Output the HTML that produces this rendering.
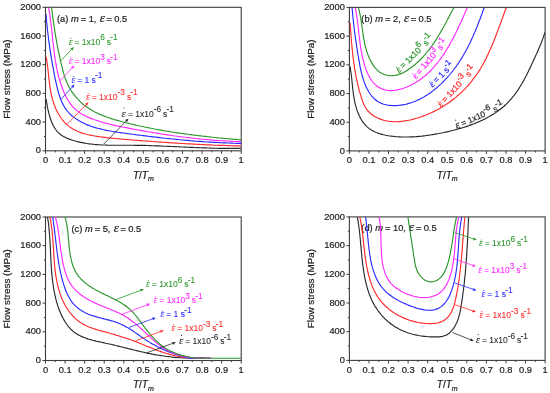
<!DOCTYPE html>
<html><head><meta charset="utf-8"><style>
html,body{margin:0;padding:0;background:#fff;}
body{width:550px;height:393px;overflow:hidden;}
svg{display:block;filter:blur(0.25px);}
text{font-family:'Liberation Sans', Arial, sans-serif;fill:#1e1e1e;stroke:#1e1e1e;stroke-width:0.22px;}
.t{font-size:9.3px;}
.yt{font-size:9.85px;}
.xt{font-size:10px;}
.eps{font-family:'Liberation Serif', 'Times New Roman', serif;font-style:italic;font-size:13px;}
.ed{font-family:'Liberation Serif', 'Times New Roman', serif;font-style:italic;}
</style></head><body>
<svg width="550" height="393" viewBox="0 0 550 393">
<rect width="550" height="393" fill="#fff"/>
<rect x="45.5" y="7.3" width="195.7" height="143.5" fill="none" stroke="#3c3c3c" stroke-width="1.1"/>
<path d="M45.5,150.8v3M55.3,150.8v1.6M65.1,150.8v3M74.9,150.8v1.6M84.6,150.8v3M94.4,150.8v1.6M104.2,150.8v3M114,150.8v1.6M123.8,150.8v3M133.6,150.8v1.6M143.3,150.8v3M153.1,150.8v1.6M162.9,150.8v3M172.7,150.8v1.6M182.5,150.8v3M192.3,150.8v1.6M202.1,150.8v3M211.8,150.8v1.6M221.6,150.8v3M231.4,150.8v1.6M241.2,150.8v3M45.5,150.8h-3M45.5,136.5h-1.6M45.5,122.1h-3M45.5,107.8h-1.6M45.5,93.4h-3M45.5,79.1h-1.6M45.5,64.7h-3M45.5,50.4h-1.6M45.5,36h-3M45.5,21.7h-1.6M45.5,7.3h-3" stroke="#3c3c3c" stroke-width="1" fill="none"/>
<text x="45.5" y="162.9" text-anchor="middle" class="t">0</text>
<text x="65.1" y="162.9" text-anchor="middle" class="t">0.1</text>
<text x="84.6" y="162.9" text-anchor="middle" class="t">0.2</text>
<text x="104.2" y="162.9" text-anchor="middle" class="t">0.3</text>
<text x="123.8" y="162.9" text-anchor="middle" class="t">0.4</text>
<text x="143.3" y="162.9" text-anchor="middle" class="t">0.5</text>
<text x="162.9" y="162.9" text-anchor="middle" class="t">0.6</text>
<text x="182.5" y="162.9" text-anchor="middle" class="t">0.7</text>
<text x="202.1" y="162.9" text-anchor="middle" class="t">0.8</text>
<text x="221.6" y="162.9" text-anchor="middle" class="t">0.9</text>
<text x="241.2" y="162.9" text-anchor="middle" class="t">1</text>
<text x="41" y="153.4" text-anchor="end" class="t">0</text>
<text x="41" y="124.7" text-anchor="end" class="t">400</text>
<text x="41" y="96" text-anchor="end" class="t">800</text>
<text x="41" y="67.3" text-anchor="end" class="t">1200</text>
<text x="41" y="38.6" text-anchor="end" class="t">1600</text>
<text x="41" y="9.9" text-anchor="end" class="t">2000</text>
<text transform="translate(9.9,79.1) rotate(-90)" text-anchor="middle" class="yt">Flow stress (MPa)</text>
<text x="143.3" y="178.7" class="xt" text-anchor="middle"><tspan font-style="italic">T</tspan>/<tspan font-style="italic">T</tspan><tspan font-style="italic" font-size="7" dy="2.2">m</tspan></text>
<text x="57" y="22.2" class="t">(a) <tspan font-style="italic">m</tspan><tspan dx="-0.6"> = 1, </tspan><tspan class="eps" dx="0.6">ε</tspan><tspan dx="1.7">=</tspan><tspan dx="-0.3"> 0.5</tspan></text>
<clipPath id="cpa"><rect x="45.5" y="7.3" width="195.7" height="143.5"/></clipPath>
<g clip-path="url(#cpa)">
<path d="M46.2,99.1C46.2,99.5 46.4,100.7 46.5,101.5C46.6,102.3 46.7,103.1 46.9,103.9C47,104.7 47.2,105.5 47.3,106.4C47.5,107.2 47.6,108 47.8,108.8C48,109.7 48.2,110.5 48.4,111.3C48.6,112.2 48.8,113 49,113.9C49.3,114.7 49.5,115.6 49.8,116.4C50,117.3 50.3,118.1 50.6,119C50.8,119.8 51.2,120.6 51.5,121.5C51.8,122.3 52.1,123.1 52.5,123.9C52.9,124.7 53.3,125.5 53.7,126.3C54.1,127 54.5,127.8 55,128.5C55.4,129.2 55.9,129.9 56.4,130.5C57,131.2 57.5,131.8 58.1,132.4C58.7,133 59.3,133.5 59.9,134C60.6,134.6 61.2,135 61.9,135.5C62.6,135.9 63.3,136.4 64.1,136.8C64.8,137.2 65.5,137.5 66.3,137.9C67.1,138.2 67.8,138.6 68.6,138.9C69.4,139.2 70.2,139.5 71,139.7C71.8,140 72.6,140.3 73.4,140.5C74.2,140.8 75,141 75.9,141.2C76.7,141.4 77.5,141.7 78.3,141.9C79.1,142.1 79.9,142.2 80.8,142.4C81.6,142.6 82.4,142.8 83.2,142.9C84.1,143.1 84.9,143.2 85.7,143.3C86.6,143.5 87.4,143.6 88.2,143.7C89.1,143.8 89.9,143.9 90.7,144C91.6,144.1 92.4,144.2 93.3,144.3C94.1,144.4 94.9,144.5 95.8,144.6C96.6,144.6 97.5,144.7 98.3,144.7C99.2,144.8 100,144.8 100.9,144.9C101.7,144.9 102.6,145 103.4,145C104.3,145 105.1,145.1 106,145.1C106.8,145.1 107.7,145.1 108.5,145.2C109.4,145.2 110.2,145.2 111.1,145.2C112,145.2 112.8,145.2 113.7,145.2C114.5,145.2 115.4,145.2 116.2,145.2C117.1,145.2 118,145.2 118.8,145.2C119.7,145.2 120.5,145.2 121.4,145.2C122.2,145.2 123.1,145.2 124,145.2C124.8,145.2 125.7,145.2 126.5,145.2C127.4,145.2 128.2,145.2 129.1,145.2C129.9,145.2 130.8,145.2 131.7,145.2C132.5,145.2 133.4,145.2 134.2,145.3C135.1,145.3 135.9,145.3 136.8,145.3C137.6,145.3 138.5,145.3 139.3,145.3C140.2,145.3 141,145.4 141.9,145.4C142.7,145.4 143.6,145.4 144.4,145.4C145.3,145.5 146.1,145.5 147,145.5C147.8,145.5 148.7,145.6 149.5,145.6C150.4,145.6 151.2,145.6 152.1,145.7C152.9,145.7 153.8,145.7 154.6,145.8C155.5,145.8 156.3,145.8 157.2,145.8C158,145.9 158.8,145.9 159.7,145.9C160.5,146 161.4,146 162.2,146.1C163.1,146.1 163.9,146.1 164.8,146.2C165.6,146.2 166.5,146.2 167.3,146.3C168.1,146.3 169,146.3 169.8,146.4C170.7,146.4 171.5,146.5 172.4,146.5C173.2,146.5 174,146.6 174.9,146.6C175.7,146.7 176.6,146.7 177.4,146.7C178.3,146.8 179.1,146.8 180,146.9C180.8,146.9 181.6,146.9 182.5,147C183.3,147 184.2,147.1 185,147.1C185.9,147.1 186.7,147.2 187.5,147.2C188.4,147.2 189.2,147.3 190.1,147.3C190.9,147.4 191.8,147.4 192.6,147.4C193.4,147.5 194.3,147.5 195.1,147.5C196,147.6 196.8,147.6 197.7,147.6C198.5,147.7 199.4,147.7 200.2,147.7C201,147.8 201.9,147.8 202.7,147.8C203.6,147.9 204.4,147.9 205.3,147.9C206.1,148 207,148 207.8,148C208.7,148 209.5,148.1 210.4,148.1C211.2,148.1 212,148.1 212.9,148.2C213.7,148.2 214.6,148.2 215.4,148.2C216.3,148.2 217.1,148.2 218,148.3C218.8,148.3 219.7,148.3 220.5,148.3C221.4,148.3 222.2,148.3 223.1,148.3C223.9,148.3 224.8,148.3 225.6,148.4C226.5,148.4 227.3,148.4 228.2,148.4C229,148.4 229.9,148.4 230.8,148.4C231.6,148.4 232.5,148.3 233.3,148.3C234.2,148.3 235,148.3 235.9,148.3C236.7,148.3 237.6,148.3 238.5,148.3C239.3,148.3 240.6,148.2 241,148.2" stroke="#2a2a2a" stroke-width="1.15" fill="none"/>
<path d="M46.1,56.6C46.1,57 46.4,58.2 46.5,59C46.7,59.8 46.8,60.6 46.9,61.4C47,62.2 47.2,63 47.3,63.9C47.4,64.7 47.5,65.5 47.6,66.3C47.7,67.2 47.8,68 47.9,68.8C48,69.7 48.1,70.5 48.2,71.3C48.2,72.2 48.3,73 48.4,73.9C48.5,74.7 48.6,75.6 48.7,76.4C48.8,77.3 48.9,78.1 49,79C49.1,79.8 49.2,80.7 49.3,81.5C49.4,82.4 49.5,83.2 49.6,84.1C49.7,84.9 49.8,85.8 49.9,86.6C50,87.5 50.2,88.3 50.3,89.2C50.5,90 50.6,90.9 50.8,91.7C50.9,92.5 51.1,93.4 51.2,94.2C51.4,95.1 51.6,95.9 51.8,96.7C52,97.5 52.2,98.4 52.4,99.2C52.7,100 52.9,100.8 53.2,101.6C53.4,102.5 53.7,103.3 54,104.1C54.2,104.9 54.5,105.7 54.9,106.5C55.2,107.2 55.5,108 55.8,108.8C56.2,109.6 56.6,110.3 56.9,111.1C57.3,111.8 57.7,112.6 58.1,113.3C58.5,114 58.9,114.7 59.4,115.4C59.8,116.1 60.3,116.8 60.7,117.5C61.2,118.2 61.7,118.8 62.2,119.5C62.7,120.1 63.2,120.8 63.7,121.4C64.3,122 64.8,122.6 65.4,123.2C66,123.7 66.6,124.3 67.2,124.8C67.8,125.4 68.4,125.9 69,126.4C69.7,126.9 70.3,127.4 71,127.8C71.6,128.3 72.3,128.7 73,129.1C73.7,129.5 74.5,129.9 75.2,130.3C75.9,130.6 76.7,131 77.4,131.3C78.2,131.6 79,131.9 79.8,132.2C80.5,132.5 81.3,132.8 82.1,133.1C83,133.3 83.8,133.6 84.6,133.8C85.4,134 86.2,134.2 87.1,134.5C87.9,134.7 88.8,134.8 89.6,135C90.5,135.2 91.3,135.4 92.2,135.5C93,135.7 93.9,135.9 94.7,136C95.6,136.1 96.5,136.3 97.3,136.4C98.2,136.5 99,136.7 99.9,136.8C100.7,136.9 101.6,137 102.4,137.1C103.3,137.2 104.2,137.3 105,137.4C105.9,137.5 106.7,137.6 107.5,137.7C108.4,137.8 109.2,137.9 110.1,138C110.9,138.1 111.8,138.2 112.6,138.3C113.4,138.4 114.3,138.4 115.1,138.5C116,138.6 116.8,138.7 117.6,138.7C118.5,138.8 119.3,138.9 120.2,139C121,139 121.8,139.1 122.7,139.2C123.5,139.2 124.3,139.3 125.2,139.4C126,139.5 126.8,139.5 127.7,139.6C128.5,139.7 129.4,139.7 130.2,139.8C131,139.9 131.9,139.9 132.7,140C133.5,140.1 134.4,140.1 135.2,140.2C136,140.3 136.9,140.3 137.7,140.4C138.6,140.5 139.4,140.5 140.2,140.6C141.1,140.7 141.9,140.7 142.7,140.8C143.6,140.8 144.4,140.9 145.2,141C146.1,141 146.9,141.1 147.8,141.2C148.6,141.2 149.4,141.3 150.3,141.3C151.1,141.4 151.9,141.5 152.8,141.5C153.6,141.6 154.5,141.6 155.3,141.7C156.1,141.8 157,141.8 157.8,141.9C158.6,141.9 159.5,142 160.3,142.1C161.2,142.1 162,142.2 162.8,142.2C163.7,142.3 164.5,142.3 165.3,142.4C166.2,142.5 167,142.5 167.9,142.6C168.7,142.6 169.5,142.7 170.4,142.7C171.2,142.8 172,142.8 172.9,142.9C173.7,143 174.6,143 175.4,143.1C176.2,143.1 177.1,143.2 177.9,143.2C178.8,143.3 179.6,143.3 180.4,143.4C181.3,143.4 182.1,143.5 182.9,143.5C183.8,143.6 184.6,143.6 185.5,143.7C186.3,143.7 187.1,143.8 188,143.8C188.8,143.9 189.7,143.9 190.5,143.9C191.3,144 192.2,144 193,144.1C193.9,144.1 194.7,144.2 195.5,144.2C196.4,144.3 197.2,144.3 198.1,144.3C198.9,144.4 199.7,144.4 200.6,144.5C201.4,144.5 202.3,144.6 203.1,144.6C203.9,144.6 204.8,144.7 205.6,144.7C206.5,144.8 207.3,144.8 208.1,144.8C209,144.9 209.8,144.9 210.7,144.9C211.5,145 212.4,145 213.2,145.1C214,145.1 214.9,145.1 215.7,145.2C216.6,145.2 217.4,145.2 218.2,145.3C219.1,145.3 219.9,145.3 220.8,145.4C221.6,145.4 222.5,145.4 223.3,145.4C224.1,145.5 225,145.5 225.8,145.5C226.7,145.6 227.5,145.6 228.4,145.6C229.2,145.6 230,145.7 230.9,145.7C231.7,145.7 232.6,145.8 233.4,145.8C234.3,145.8 235.1,145.8 235.9,145.8C236.8,145.9 237.6,145.9 238.5,145.9C239.3,145.9 240.6,146 241,146" stroke="#ff2a2a" stroke-width="1.15" fill="none"/>
<path d="M45.9,14C46,14.4 46.1,15.7 46.2,16.6C46.2,17.4 46.3,18.3 46.4,19.1C46.5,20 46.6,20.8 46.6,21.7C46.7,22.5 46.8,23.4 46.9,24.2C47,25 47.1,25.9 47.2,26.7C47.2,27.6 47.3,28.4 47.4,29.2C47.5,30.1 47.6,30.9 47.7,31.7C47.8,32.6 47.9,33.4 48,34.2C48.1,35.1 48.2,35.9 48.3,36.7C48.4,37.5 48.5,38.4 48.6,39.2C48.7,40 48.8,40.8 48.9,41.7C49.1,42.5 49.2,43.3 49.3,44.1C49.4,45 49.5,45.8 49.6,46.6C49.8,47.4 49.9,48.2 50,49.1C50.1,49.9 50.2,50.7 50.4,51.5C50.5,52.4 50.6,53.2 50.7,54C50.9,54.8 51,55.6 51.1,56.5C51.3,57.3 51.4,58.1 51.5,58.9C51.7,59.7 51.8,60.6 52,61.4C52.1,62.2 52.3,63 52.4,63.9C52.5,64.7 52.7,65.5 52.8,66.3C53,67.2 53.1,68 53.3,68.8C53.4,69.7 53.6,70.5 53.8,71.3C53.9,72.2 54.1,73 54.2,73.8C54.4,74.7 54.6,75.5 54.7,76.3C54.9,77.2 55.1,78 55.2,78.9C55.4,79.7 55.6,80.5 55.8,81.4C55.9,82.2 56.1,83.1 56.3,83.9C56.5,84.8 56.7,85.6 56.9,86.4C57.1,87.3 57.3,88.1 57.5,89C57.7,89.8 57.9,90.6 58.1,91.5C58.4,92.3 58.6,93.1 58.9,93.9C59.1,94.7 59.4,95.5 59.6,96.3C59.9,97.1 60.2,97.9 60.5,98.7C60.8,99.5 61.1,100.3 61.4,101C61.8,101.8 62.1,102.5 62.5,103.3C62.8,104 63.2,104.8 63.6,105.5C64,106.2 64.4,106.9 64.8,107.6C65.3,108.3 65.7,108.9 66.2,109.6C66.7,110.2 67.2,110.9 67.7,111.5C68.2,112.1 68.7,112.7 69.3,113.3C69.9,113.9 70.5,114.5 71.1,115C71.7,115.6 72.3,116.1 72.9,116.6C73.6,117.1 74.2,117.6 74.9,118.1C75.6,118.6 76.3,119.1 77,119.5C77.7,120 78.4,120.4 79.1,120.8C79.9,121.2 80.6,121.6 81.3,122C82.1,122.4 82.8,122.8 83.6,123.1C84.3,123.5 85.1,123.8 85.9,124.2C86.6,124.5 87.4,124.8 88.2,125.1C89,125.5 89.8,125.7 90.5,126C91.3,126.3 92.1,126.6 92.9,126.9C93.7,127.1 94.5,127.4 95.3,127.6C96.2,127.8 97,128.1 97.8,128.3C98.6,128.5 99.4,128.7 100.3,128.9C101.1,129.1 101.9,129.3 102.7,129.5C103.6,129.7 104.4,129.9 105.2,130.1C106.1,130.3 106.9,130.4 107.8,130.6C108.6,130.7 109.4,130.9 110.3,131C111.1,131.2 112,131.3 112.8,131.5C113.7,131.6 114.5,131.8 115.4,131.9C116.2,132 117.1,132.1 117.9,132.3C118.8,132.4 119.6,132.5 120.5,132.6C121.3,132.8 122.2,132.9 123,133C123.9,133.1 124.7,133.2 125.6,133.3C126.4,133.5 127.3,133.6 128.1,133.7C129,133.8 129.8,133.9 130.7,134C131.5,134.1 132.3,134.2 133.2,134.3C134,134.5 134.9,134.6 135.7,134.7C136.6,134.8 137.4,134.9 138.2,135C139.1,135.1 139.9,135.2 140.8,135.3C141.6,135.4 142.4,135.5 143.3,135.6C144.1,135.7 144.9,135.8 145.8,135.9C146.6,136 147.4,136.1 148.3,136.3C149.1,136.4 149.9,136.5 150.8,136.6C151.6,136.7 152.4,136.8 153.3,136.8C154.1,136.9 154.9,137 155.8,137.1C156.6,137.2 157.4,137.3 158.3,137.4C159.1,137.5 159.9,137.6 160.7,137.7C161.6,137.8 162.4,137.9 163.2,138C164.1,138.1 164.9,138.2 165.7,138.3C166.5,138.3 167.4,138.4 168.2,138.5C169,138.6 169.9,138.7 170.7,138.8C171.5,138.9 172.3,139 173.2,139C174,139.1 174.8,139.2 175.6,139.3C176.5,139.4 177.3,139.4 178.1,139.5C179,139.6 179.8,139.7 180.6,139.8C181.4,139.8 182.3,139.9 183.1,140C183.9,140.1 184.8,140.1 185.6,140.2C186.4,140.3 187.2,140.4 188.1,140.4C188.9,140.5 189.7,140.6 190.6,140.7C191.4,140.7 192.2,140.8 193,140.9C193.9,140.9 194.7,141 195.5,141.1C196.4,141.1 197.2,141.2 198,141.3C198.9,141.3 199.7,141.4 200.5,141.4C201.3,141.5 202.2,141.6 203,141.6C203.8,141.7 204.7,141.7 205.5,141.8C206.4,141.8 207.2,141.9 208,142C208.9,142 209.7,142.1 210.5,142.1C211.4,142.2 212.2,142.2 213,142.3C213.9,142.3 214.7,142.4 215.6,142.4C216.4,142.5 217.2,142.5 218.1,142.5C218.9,142.6 219.8,142.6 220.6,142.7C221.5,142.7 222.3,142.8 223.1,142.8C224,142.8 224.8,142.9 225.7,142.9C226.5,142.9 227.4,143 228.2,143C229.1,143 229.9,143.1 230.8,143.1C231.6,143.1 232.5,143.2 233.3,143.2C234.2,143.2 235,143.2 235.9,143.3C236.8,143.3 237.6,143.3 238.5,143.3C239.3,143.4 240.6,143.4 241.1,143.4" stroke="#2a2aff" stroke-width="1.15" fill="none"/>
<path d="M48.5,7.3C48.6,7.8 48.8,9 49,9.8C49.1,10.6 49.2,11.4 49.4,12.2C49.5,13 49.6,13.8 49.8,14.6C49.9,15.5 50,16.3 50.1,17.1C50.2,17.9 50.3,18.7 50.5,19.6C50.6,20.4 50.7,21.2 50.8,22C50.9,22.9 51,23.7 51.1,24.5C51.2,25.4 51.3,26.2 51.4,27.1C51.5,27.9 51.6,28.7 51.7,29.6C51.8,30.4 51.8,31.2 51.9,32.1C52,32.9 52.1,33.8 52.2,34.6C52.3,35.5 52.4,36.3 52.5,37.1C52.6,38 52.6,38.8 52.7,39.7C52.8,40.5 52.9,41.4 53,42.2C53.1,43.1 53.2,43.9 53.3,44.8C53.4,45.6 53.5,46.5 53.6,47.3C53.7,48.1 53.8,49 53.9,49.8C54,50.7 54.1,51.5 54.2,52.4C54.3,53.2 54.4,54.1 54.5,54.9C54.7,55.8 54.8,56.6 54.9,57.4C55,58.3 55.1,59.1 55.3,60C55.4,60.8 55.5,61.6 55.7,62.5C55.8,63.3 56,64.2 56.1,65C56.3,65.8 56.4,66.7 56.6,67.5C56.8,68.3 56.9,69.2 57.1,70C57.3,70.8 57.5,71.6 57.6,72.5C57.8,73.3 58,74.1 58.2,74.9C58.4,75.7 58.6,76.6 58.9,77.4C59.1,78.2 59.3,79 59.5,79.8C59.8,80.6 60,81.4 60.3,82.2C60.5,83 60.8,83.8 61,84.6C61.3,85.4 61.6,86.2 61.9,87C62.2,87.8 62.5,88.6 62.8,89.4C63.1,90.2 63.4,90.9 63.7,91.7C64,92.5 64.4,93.3 64.7,94C65.1,94.8 65.5,95.5 65.8,96.3C66.2,97 66.6,97.8 67,98.5C67.4,99.2 67.8,99.9 68.3,100.7C68.7,101.4 69.2,102.1 69.6,102.7C70.1,103.4 70.6,104.1 71.1,104.7C71.6,105.4 72.1,106 72.7,106.6C73.2,107.2 73.8,107.8 74.4,108.4C74.9,109 75.6,109.5 76.2,110C76.8,110.6 77.5,111.1 78.1,111.6C78.8,112 79.5,112.5 80.2,113C80.9,113.4 81.6,113.8 82.3,114.3C83,114.7 83.8,115.1 84.5,115.5C85.3,115.8 86,116.2 86.8,116.6C87.6,116.9 88.4,117.3 89.1,117.6C89.9,117.9 90.7,118.3 91.5,118.6C92.3,118.9 93.1,119.2 93.9,119.5C94.7,119.8 95.5,120.1 96.3,120.3C97.1,120.6 97.9,120.9 98.7,121.1C99.5,121.4 100.3,121.6 101.1,121.9C101.9,122.1 102.7,122.4 103.5,122.6C104.4,122.8 105.2,123.1 106,123.3C106.8,123.5 107.6,123.7 108.5,123.9C109.3,124.1 110.1,124.3 110.9,124.5C111.8,124.7 112.6,124.9 113.4,125.1C114.3,125.3 115.1,125.4 115.9,125.6C116.7,125.8 117.6,126 118.4,126.1C119.2,126.3 120.1,126.5 120.9,126.7C121.7,126.8 122.6,127 123.4,127.2C124.2,127.3 125.1,127.5 125.9,127.6C126.7,127.8 127.6,128 128.4,128.1C129.2,128.3 130.1,128.4 130.9,128.6C131.7,128.8 132.6,128.9 133.4,129.1C134.2,129.2 135.1,129.4 135.9,129.5C136.7,129.7 137.5,129.8 138.4,130C139.2,130.1 140,130.3 140.9,130.4C141.7,130.6 142.5,130.7 143.4,130.9C144.2,131 145,131.2 145.8,131.3C146.7,131.5 147.5,131.6 148.3,131.8C149.2,131.9 150,132 150.8,132.2C151.6,132.3 152.5,132.5 153.3,132.6C154.1,132.7 155,132.9 155.8,133C156.6,133.1 157.4,133.3 158.3,133.4C159.1,133.5 159.9,133.7 160.8,133.8C161.6,133.9 162.4,134.1 163.2,134.2C164.1,134.3 164.9,134.5 165.7,134.6C166.6,134.7 167.4,134.8 168.2,135C169,135.1 169.9,135.2 170.7,135.3C171.5,135.4 172.4,135.6 173.2,135.7C174,135.8 174.8,135.9 175.7,136C176.5,136.1 177.3,136.2 178.2,136.4C179,136.5 179.8,136.6 180.6,136.7C181.5,136.8 182.3,136.9 183.1,137C184,137.1 184.8,137.2 185.6,137.3C186.5,137.4 187.3,137.5 188.1,137.6C188.9,137.7 189.8,137.8 190.6,137.9C191.4,138 192.3,138.1 193.1,138.2C193.9,138.3 194.8,138.4 195.6,138.5C196.4,138.6 197.3,138.7 198.1,138.7C198.9,138.8 199.8,138.9 200.6,139C201.4,139.1 202.3,139.2 203.1,139.2C203.9,139.3 204.8,139.4 205.6,139.5C206.4,139.6 207.3,139.6 208.1,139.7C209,139.8 209.8,139.9 210.6,139.9C211.5,140 212.3,140.1 213.1,140.1C214,140.2 214.8,140.3 215.7,140.3C216.5,140.4 217.3,140.4 218.2,140.5C219,140.6 219.9,140.6 220.7,140.7C221.5,140.7 222.4,140.8 223.2,140.8C224.1,140.9 224.9,140.9 225.8,141C226.6,141 227.5,141.1 228.3,141.1C229.1,141.2 230,141.2 230.8,141.3C231.7,141.3 232.5,141.3 233.4,141.4C234.2,141.4 235.1,141.4 235.9,141.5C236.8,141.5 237.6,141.5 238.5,141.6C239.3,141.6 240.6,141.6 241,141.6" stroke="#ff2aff" stroke-width="1.15" fill="none"/>
<path d="M51.6,7.3C51.6,7.7 51.8,9 51.9,9.8C52,10.7 52.1,11.5 52.2,12.4C52.3,13.2 52.4,14 52.5,14.9C52.6,15.7 52.7,16.5 52.8,17.4C52.9,18.2 53,19.1 53.2,19.9C53.3,20.7 53.4,21.6 53.5,22.4C53.6,23.2 53.7,24 53.9,24.9C54,25.7 54.1,26.5 54.2,27.4C54.4,28.2 54.5,29 54.6,29.9C54.7,30.7 54.9,31.5 55,32.3C55.1,33.2 55.3,34 55.4,34.8C55.6,35.6 55.7,36.5 55.8,37.3C56,38.1 56.1,39 56.3,39.8C56.4,40.6 56.6,41.4 56.7,42.3C56.9,43.1 57,43.9 57.2,44.7C57.3,45.6 57.5,46.4 57.6,47.2C57.8,48 58,48.9 58.1,49.7C58.3,50.5 58.5,51.3 58.6,52.2C58.8,53 59,53.8 59.2,54.6C59.3,55.5 59.5,56.3 59.7,57.1C59.9,57.9 60.1,58.8 60.2,59.6C60.4,60.4 60.6,61.2 60.8,62.1C61,62.9 61.2,63.7 61.4,64.6C61.6,65.4 61.8,66.2 62,67C62.2,67.9 62.4,68.7 62.6,69.5C62.8,70.3 63.1,71.2 63.3,72C63.5,72.8 63.8,73.6 64,74.4C64.3,75.3 64.5,76.1 64.8,76.9C65,77.7 65.3,78.5 65.6,79.3C65.9,80.1 66.2,80.9 66.5,81.6C66.8,82.4 67.2,83.2 67.5,84C67.9,84.7 68.2,85.5 68.6,86.2C69,87 69.4,87.7 69.8,88.4C70.2,89.2 70.7,89.9 71.1,90.6C71.6,91.3 72,92 72.5,92.7C73,93.4 73.5,94 74,94.7C74.5,95.4 75,96 75.5,96.6C76.1,97.3 76.6,97.9 77.2,98.5C77.7,99.1 78.3,99.8 78.9,100.3C79.5,100.9 80.1,101.5 80.7,102.1C81.3,102.6 81.9,103.2 82.5,103.7C83.1,104.3 83.8,104.8 84.4,105.3C85.1,105.8 85.8,106.3 86.4,106.8C87.1,107.3 87.8,107.7 88.5,108.2C89.2,108.7 89.9,109.1 90.6,109.5C91.3,110 92,110.4 92.7,110.8C93.4,111.2 94.2,111.6 94.9,112C95.7,112.4 96.4,112.7 97.2,113.1C97.9,113.5 98.7,113.8 99.5,114.1C100.2,114.5 101,114.8 101.8,115.1C102.6,115.5 103.3,115.8 104.1,116.1C104.9,116.4 105.7,116.7 106.5,117C107.3,117.3 108.1,117.6 108.9,117.8C109.7,118.1 110.5,118.4 111.4,118.6C112.2,118.9 113,119.1 113.8,119.4C114.6,119.6 115.5,119.9 116.3,120.1C117.1,120.4 117.9,120.6 118.8,120.8C119.6,121.1 120.4,121.3 121.2,121.5C122.1,121.7 122.9,121.9 123.7,122.2C124.6,122.4 125.4,122.6 126.2,122.8C127.1,123 127.9,123.2 128.7,123.4C129.5,123.6 130.4,123.8 131.2,124C132,124.2 132.9,124.4 133.7,124.6C134.5,124.8 135.3,125 136.2,125.2C137,125.3 137.8,125.5 138.6,125.7C139.5,125.9 140.3,126.1 141.1,126.3C142,126.4 142.8,126.6 143.6,126.8C144.4,127 145.3,127.1 146.1,127.3C146.9,127.5 147.7,127.6 148.6,127.8C149.4,128 150.2,128.1 151,128.3C151.8,128.5 152.7,128.6 153.5,128.8C154.3,128.9 155.1,129.1 156,129.2C156.8,129.4 157.6,129.5 158.4,129.7C159.3,129.8 160.1,130 160.9,130.1C161.7,130.3 162.6,130.4 163.4,130.6C164.2,130.7 165,130.8 165.9,131C166.7,131.1 167.5,131.3 168.3,131.4C169.1,131.5 170,131.7 170.8,131.8C171.6,131.9 172.4,132.1 173.3,132.2C174.1,132.3 174.9,132.4 175.7,132.6C176.6,132.7 177.4,132.8 178.2,132.9C179,133.1 179.9,133.2 180.7,133.3C181.5,133.4 182.4,133.5 183.2,133.6C184,133.8 184.8,133.9 185.7,134C186.5,134.1 187.3,134.2 188.1,134.3C189,134.4 189.8,134.5 190.6,134.6C191.5,134.7 192.3,134.9 193.1,135C193.9,135.1 194.8,135.2 195.6,135.3C196.4,135.4 197.3,135.5 198.1,135.6C198.9,135.7 199.8,135.8 200.6,135.9C201.4,136 202.3,136.1 203.1,136.2C203.9,136.2 204.8,136.3 205.6,136.4C206.4,136.5 207.3,136.6 208.1,136.7C208.9,136.8 209.8,136.9 210.6,137C211.4,137.1 212.3,137.2 213.1,137.2C214,137.3 214.8,137.4 215.6,137.5C216.5,137.6 217.3,137.7 218.2,137.8C219,137.8 219.8,137.9 220.7,138C221.5,138.1 222.4,138.2 223.2,138.3C224,138.3 224.9,138.4 225.7,138.5C226.6,138.6 227.4,138.7 228.3,138.7C229.1,138.8 230,138.9 230.8,139C231.7,139.1 232.5,139.1 233.4,139.2C234.2,139.3 235.1,139.4 235.9,139.4C236.8,139.5 237.6,139.6 238.5,139.7C239.3,139.7 240.6,139.8 241.1,139.9" stroke="#2a962a" stroke-width="1.15" fill="none"/>
</g>
<rect x="349.4" y="7.4" width="195.7" height="143.5" fill="none" stroke="#3c3c3c" stroke-width="1.1"/>
<path d="M349.4,150.9v3M359.2,150.9v1.6M369,150.9v3M378.8,150.9v1.6M388.5,150.9v3M398.3,150.9v1.6M408.1,150.9v3M417.9,150.9v1.6M427.7,150.9v3M437.5,150.9v1.6M447.2,150.9v3M457,150.9v1.6M466.8,150.9v3M476.6,150.9v1.6M486.4,150.9v3M496.2,150.9v1.6M506,150.9v3M515.7,150.9v1.6M525.5,150.9v3M535.3,150.9v1.6M545.1,150.9v3M349.4,150.9h-3M349.4,136.6h-1.6M349.4,122.2h-3M349.4,107.9h-1.6M349.4,93.5h-3M349.4,79.2h-1.6M349.4,64.8h-3M349.4,50.5h-1.6M349.4,36.1h-3M349.4,21.8h-1.6M349.4,7.4h-3" stroke="#3c3c3c" stroke-width="1" fill="none"/>
<text x="349.4" y="163" text-anchor="middle" class="t">0</text>
<text x="369" y="163" text-anchor="middle" class="t">0.1</text>
<text x="388.5" y="163" text-anchor="middle" class="t">0.2</text>
<text x="408.1" y="163" text-anchor="middle" class="t">0.3</text>
<text x="427.7" y="163" text-anchor="middle" class="t">0.4</text>
<text x="447.2" y="163" text-anchor="middle" class="t">0.5</text>
<text x="466.8" y="163" text-anchor="middle" class="t">0.6</text>
<text x="486.4" y="163" text-anchor="middle" class="t">0.7</text>
<text x="506" y="163" text-anchor="middle" class="t">0.8</text>
<text x="525.5" y="163" text-anchor="middle" class="t">0.9</text>
<text x="545.1" y="163" text-anchor="middle" class="t">1</text>
<text x="344.9" y="153.5" text-anchor="end" class="t">0</text>
<text x="344.9" y="124.8" text-anchor="end" class="t">400</text>
<text x="344.9" y="96.1" text-anchor="end" class="t">800</text>
<text x="344.9" y="67.4" text-anchor="end" class="t">1200</text>
<text x="344.9" y="38.7" text-anchor="end" class="t">1600</text>
<text x="344.9" y="10" text-anchor="end" class="t">2000</text>
<text transform="translate(313.8,79.2) rotate(-90)" text-anchor="middle" class="yt">Flow stress (MPa)</text>
<text x="447.2" y="178.8" class="xt" text-anchor="middle"><tspan font-style="italic">T</tspan>/<tspan font-style="italic">T</tspan><tspan font-style="italic" font-size="7" dy="2.2">m</tspan></text>
<text x="361.3" y="22.3" class="t">(b) <tspan font-style="italic">m</tspan><tspan dx="-0.6"> = 2, </tspan><tspan class="eps" dx="0.6">ε</tspan><tspan dx="1.7">=</tspan><tspan dx="-0.3"> 0.5</tspan></text>
<clipPath id="cpb"><rect x="349.4" y="7.4" width="195.7" height="143.5"/></clipPath>
<g clip-path="url(#cpb)">
<path d="M349.9,66C349.9,66.4 350.2,67.6 350.3,68.5C350.5,69.3 350.6,70.1 350.7,70.9C350.9,71.7 351,72.5 351.1,73.3C351.2,74.2 351.3,75 351.4,75.8C351.5,76.6 351.6,77.4 351.7,78.3C351.8,79.1 351.9,79.9 351.9,80.7C352,81.6 352.1,82.4 352.2,83.2C352.3,84.1 352.3,84.9 352.4,85.7C352.5,86.6 352.6,87.4 352.7,88.3C352.8,89.1 352.9,89.9 353,90.8C353.1,91.6 353.2,92.5 353.3,93.3C353.4,94.2 353.5,95 353.6,95.9C353.8,96.7 353.9,97.6 354.1,98.4C354.2,99.3 354.4,100.1 354.6,101C354.7,101.8 354.9,102.7 355.1,103.5C355.3,104.4 355.5,105.2 355.8,106.1C356,106.9 356.3,107.8 356.5,108.6C356.8,109.4 357.1,110.3 357.3,111.1C357.6,111.9 358,112.7 358.3,113.5C358.6,114.3 359,115.1 359.3,115.8C359.7,116.6 360.1,117.4 360.5,118.1C360.9,118.8 361.3,119.6 361.7,120.3C362.2,121 362.6,121.6 363.1,122.3C363.6,123 364.1,123.6 364.6,124.2C365.1,124.8 365.7,125.4 366.3,126C366.8,126.6 367.4,127.1 368,127.6C368.6,128.1 369.3,128.6 369.9,129.1C370.6,129.5 371.3,129.9 372,130.3C372.7,130.7 373.4,131.1 374.1,131.5C374.8,131.8 375.6,132.2 376.3,132.5C377.1,132.8 377.9,133.1 378.7,133.4C379.5,133.6 380.3,133.9 381.1,134.1C381.9,134.4 382.7,134.6 383.5,134.8C384.4,135 385.2,135.1 386,135.3C386.9,135.5 387.7,135.6 388.6,135.8C389.4,135.9 390.3,136 391.1,136.1C392,136.2 392.8,136.3 393.7,136.4C394.5,136.5 395.4,136.6 396.3,136.7C397.1,136.7 398,136.8 398.8,136.8C399.7,136.9 400.5,136.9 401.3,137C402.2,137 403,137 403.9,137C404.7,137 405.6,137 406.4,137C407.2,137 408.1,137 408.9,137C409.8,137 410.6,136.9 411.4,136.9C412.3,136.9 413.1,136.8 413.9,136.8C414.8,136.7 415.6,136.7 416.4,136.6C417.3,136.6 418.1,136.5 418.9,136.4C419.8,136.3 420.6,136.2 421.4,136.2C422.3,136.1 423.1,136 423.9,135.9C424.8,135.8 425.6,135.7 426.4,135.5C427.2,135.4 428.1,135.3 428.9,135.2C429.7,135.1 430.6,134.9 431.4,134.8C432.2,134.7 433,134.5 433.9,134.4C434.7,134.2 435.5,134.1 436.4,133.9C437.2,133.8 438,133.6 438.9,133.5C439.7,133.3 440.5,133.1 441.4,133C442.2,132.8 443,132.6 443.9,132.5C444.7,132.3 445.5,132.1 446.4,131.9C447.2,131.7 448,131.6 448.9,131.4C449.7,131.2 450.5,131 451.3,130.8C452.2,130.6 453,130.4 453.8,130.2C454.7,130 455.5,129.7 456.3,129.5C457.1,129.3 458,129.1 458.8,128.8C459.6,128.6 460.4,128.4 461.2,128.1C462.1,127.9 462.9,127.6 463.7,127.4C464.5,127.1 465.3,126.9 466.1,126.6C466.9,126.3 467.7,126.1 468.6,125.8C469.4,125.5 470.2,125.2 470.9,124.9C471.7,124.6 472.5,124.3 473.3,124C474.1,123.7 474.9,123.4 475.7,123.1C476.5,122.8 477.2,122.5 478,122.1C478.8,121.8 479.6,121.5 480.3,121.1C481.1,120.8 481.8,120.4 482.6,120.1C483.4,119.7 484.1,119.3 484.9,118.9C485.6,118.6 486.3,118.2 487.1,117.8C487.8,117.4 488.5,117 489.3,116.6C490,116.2 490.7,115.8 491.4,115.3C492.1,114.9 492.8,114.5 493.5,114C494.2,113.6 494.9,113.1 495.6,112.7C496.3,112.2 496.9,111.7 497.6,111.3C498.3,110.8 498.9,110.3 499.6,109.8C500.3,109.3 500.9,108.8 501.5,108.3C502.2,107.7 502.8,107.2 503.4,106.7C504.1,106.1 504.7,105.6 505.3,105C505.9,104.5 506.5,103.9 507.1,103.3C507.7,102.8 508.2,102.2 508.8,101.6C509.4,101 510,100.4 510.5,99.7C511.1,99.1 511.6,98.5 512.1,97.8C512.7,97.2 513.2,96.5 513.7,95.9C514.2,95.2 514.7,94.6 515.2,93.9C515.7,93.2 516.2,92.5 516.7,91.8C517.2,91.1 517.7,90.4 518.2,89.7C518.6,89 519.1,88.3 519.5,87.5C520,86.8 520.4,86.1 520.9,85.4C521.3,84.6 521.8,83.9 522.2,83.1C522.6,82.4 523,81.6 523.5,80.9C523.9,80.1 524.3,79.4 524.7,78.6C525.1,77.8 525.5,77.1 525.9,76.3C526.3,75.5 526.7,74.8 527.1,74C527.5,73.2 527.8,72.4 528.2,71.7C528.6,70.9 529,70.1 529.3,69.3C529.7,68.6 530.1,67.8 530.4,67C530.8,66.2 531.2,65.5 531.5,64.7C531.9,63.9 532.2,63.2 532.6,62.4C533,61.6 533.3,60.9 533.7,60.1C534,59.3 534.4,58.6 534.7,57.8C535,57.1 535.4,56.3 535.7,55.6C536.1,54.8 536.4,54.1 536.8,53.3C537.1,52.6 537.4,51.8 537.8,51.1C538.1,50.3 538.4,49.6 538.7,48.8C539.1,48 539.4,47.3 539.7,46.5C540,45.8 540.3,45 540.7,44.3C541,43.5 541.3,42.7 541.6,41.9C541.9,41.2 542.2,40.4 542.5,39.6C542.8,38.8 543.1,38 543.4,37.2C543.6,36.4 543.9,35.6 544.2,34.8C544.5,34 544.9,32.8 545,32.4" stroke="#2a2a2a" stroke-width="1.15" fill="none"/>
<path d="M350.1,22.8C350.2,23.2 350.2,24.5 350.3,25.3C350.4,26.2 350.4,27 350.5,27.9C350.5,28.7 350.6,29.6 350.6,30.4C350.7,31.3 350.8,32.1 350.8,33C350.9,33.8 351,34.6 351,35.5C351.1,36.3 351.1,37.2 351.2,38C351.3,38.9 351.4,39.7 351.4,40.6C351.5,41.4 351.6,42.2 351.6,43.1C351.7,43.9 351.8,44.8 351.9,45.6C351.9,46.5 352,47.3 352.1,48.1C352.2,49 352.3,49.8 352.4,50.7C352.5,51.5 352.5,52.4 352.6,53.2C352.7,54 352.8,54.9 352.9,55.7C353,56.6 353.1,57.4 353.2,58.2C353.3,59.1 353.4,59.9 353.5,60.7C353.7,61.6 353.8,62.4 353.9,63.3C354,64.1 354.1,64.9 354.3,65.8C354.4,66.6 354.5,67.4 354.6,68.3C354.8,69.1 354.9,69.9 355,70.8C355.2,71.6 355.3,72.4 355.5,73.3C355.6,74.1 355.8,74.9 355.9,75.8C356.1,76.6 356.3,77.4 356.4,78.3C356.6,79.1 356.8,79.9 356.9,80.7C357.1,81.6 357.3,82.4 357.5,83.2C357.7,84.1 357.9,84.9 358.1,85.7C358.3,86.5 358.5,87.4 358.7,88.2C358.9,89 359.1,89.8 359.3,90.7C359.6,91.5 359.8,92.3 360,93.1C360.3,94 360.5,94.8 360.8,95.6C361,96.4 361.3,97.2 361.5,98.1C361.8,98.9 362.1,99.7 362.4,100.5C362.7,101.3 362.9,102.2 363.3,103C363.6,103.8 363.9,104.6 364.3,105.3C364.7,106.1 365.1,106.8 365.5,107.5C366,108.2 366.4,108.9 366.9,109.6C367.4,110.2 368,110.9 368.5,111.5C369.1,112.1 369.7,112.7 370.3,113.2C371,113.8 371.6,114.3 372.3,114.8C372.9,115.3 373.6,115.7 374.3,116.2C375,116.6 375.8,117 376.5,117.4C377.3,117.8 378,118.2 378.8,118.5C379.6,118.8 380.3,119.2 381.1,119.4C381.9,119.7 382.7,120 383.5,120.2C384.3,120.4 385.1,120.6 386,120.8C386.8,120.9 387.6,121.1 388.4,121.2C389.3,121.3 390.1,121.4 390.9,121.5C391.8,121.6 392.6,121.6 393.4,121.7C394.3,121.7 395.1,121.7 396,121.7C396.8,121.7 397.7,121.7 398.5,121.6C399.4,121.6 400.2,121.5 401.1,121.4C401.9,121.3 402.8,121.2 403.6,121.1C404.5,121 405.3,120.8 406.2,120.7C407,120.6 407.9,120.4 408.7,120.2C409.6,120 410.4,119.9 411.3,119.7C412.1,119.5 413,119.2 413.8,119C414.6,118.8 415.5,118.6 416.3,118.3C417.1,118.1 417.9,117.8 418.8,117.6C419.6,117.3 420.4,117 421.2,116.8C422,116.5 422.8,116.2 423.6,115.9C424.4,115.6 425.2,115.3 426,115C426.8,114.7 427.6,114.3 428.4,114C429.2,113.7 430,113.3 430.7,113C431.5,112.6 432.3,112.3 433,111.9C433.8,111.6 434.6,111.2 435.3,110.8C436.1,110.4 436.8,110 437.6,109.6C438.3,109.2 439,108.8 439.8,108.4C440.5,108 441.2,107.5 442,107.1C442.7,106.7 443.4,106.2 444.1,105.8C444.8,105.3 445.5,104.9 446.2,104.4C446.9,103.9 447.6,103.5 448.3,103C449,102.5 449.7,102 450.4,101.5C451.1,101 451.7,100.5 452.4,100C453.1,99.5 453.7,99 454.4,98.5C455,97.9 455.7,97.4 456.3,96.9C457,96.3 457.6,95.8 458.2,95.2C458.9,94.7 459.5,94.1 460.1,93.6C460.7,93 461.3,92.4 461.9,91.8C462.5,91.2 463.1,90.7 463.7,90.1C464.3,89.5 464.9,88.9 465.5,88.3C466.1,87.7 466.6,87 467.2,86.4C467.8,85.8 468.3,85.2 468.9,84.5C469.4,83.9 470,83.3 470.5,82.6C471,82 471.6,81.3 472.1,80.7C472.6,80 473.1,79.3 473.6,78.7C474.1,78 474.6,77.3 475.1,76.7C475.6,76 476.1,75.3 476.6,74.6C477.1,73.9 477.5,73.2 478,72.5C478.4,71.8 478.9,71.1 479.4,70.4C479.8,69.7 480.2,69 480.7,68.2C481.1,67.5 481.5,66.8 482,66C482.4,65.3 482.8,64.6 483.2,63.8C483.6,63.1 484,62.4 484.4,61.6C484.8,60.9 485.2,60.1 485.6,59.4C486,58.6 486.4,57.8 486.7,57.1C487.1,56.3 487.5,55.6 487.8,54.8C488.2,54 488.6,53.2 488.9,52.5C489.3,51.7 489.6,50.9 490,50.1C490.3,49.4 490.7,48.6 491,47.8C491.4,47 491.7,46.2 492,45.4C492.3,44.7 492.7,43.9 493,43.1C493.3,42.3 493.6,41.5 494,40.7C494.3,39.9 494.6,39.1 494.9,38.3C495.2,37.5 495.5,36.7 495.8,35.9C496.1,35.1 496.4,34.3 496.7,33.5C497,32.7 497.3,31.9 497.6,31.1C497.9,30.3 498.2,29.5 498.5,28.8C498.8,28 499.1,27.2 499.4,26.4C499.7,25.6 500,24.8 500.3,24C500.6,23.2 500.9,22.4 501.1,21.6C501.4,20.8 501.7,20 502,19.2C502.3,18.4 502.6,17.6 502.9,16.8C503.2,16 503.4,15.3 503.7,14.5C504,13.7 504.3,12.9 504.6,12.1C504.9,11.4 505.2,10.6 505.4,9.8C505.7,9 506.2,7.9 506.3,7.5" stroke="#ff2a2a" stroke-width="1.15" fill="none"/>
<path d="M352,7.4C352.1,7.8 352.2,9.1 352.3,10C352.3,10.8 352.4,11.7 352.5,12.6C352.6,13.4 352.7,14.3 352.8,15.1C352.8,16 352.9,16.8 353,17.7C353.1,18.5 353.2,19.4 353.3,20.2C353.4,21.1 353.5,21.9 353.5,22.7C353.6,23.6 353.7,24.4 353.8,25.2C353.9,26.1 354,26.9 354.1,27.7C354.2,28.6 354.3,29.4 354.4,30.2C354.5,31 354.6,31.9 354.7,32.7C354.9,33.5 355,34.3 355.1,35.2C355.2,36 355.3,36.8 355.4,37.6C355.5,38.4 355.6,39.3 355.8,40.1C355.9,40.9 356,41.7 356.1,42.5C356.2,43.4 356.4,44.2 356.5,45C356.6,45.8 356.7,46.7 356.9,47.5C357,48.3 357.1,49.1 357.2,50C357.4,50.8 357.5,51.6 357.6,52.5C357.8,53.3 357.9,54.1 358.1,55C358.2,55.8 358.3,56.6 358.5,57.5C358.6,58.3 358.8,59.1 358.9,60C359.1,60.8 359.2,61.7 359.4,62.5C359.5,63.4 359.7,64.2 359.8,65.1C360,65.9 360.1,66.8 360.3,67.6C360.5,68.5 360.7,69.3 360.8,70.2C361,71 361.2,71.9 361.4,72.7C361.6,73.6 361.8,74.4 362.1,75.2C362.3,76.1 362.5,76.9 362.8,77.7C363,78.6 363.3,79.4 363.5,80.2C363.8,81 364.1,81.8 364.4,82.6C364.7,83.4 365,84.2 365.3,85C365.7,85.8 366,86.6 366.4,87.4C366.8,88.1 367.1,88.9 367.6,89.6C368,90.4 368.4,91.1 368.8,91.8C369.3,92.6 369.7,93.3 370.2,94C370.7,94.6 371.2,95.3 371.7,96C372.3,96.6 372.8,97.2 373.4,97.8C373.9,98.4 374.5,99 375.2,99.5C375.8,100.1 376.4,100.6 377.1,101C377.7,101.5 378.4,101.9 379.1,102.3C379.8,102.7 380.6,103 381.3,103.4C382.1,103.7 382.8,103.9 383.6,104.2C384.4,104.4 385.2,104.6 386,104.8C386.8,105 387.6,105.1 388.5,105.2C389.3,105.4 390.2,105.4 391,105.5C391.8,105.6 392.7,105.6 393.5,105.6C394.4,105.6 395.3,105.6 396.1,105.6C396.9,105.5 397.8,105.5 398.6,105.4C399.5,105.3 400.3,105.2 401.2,105.1C402,105 402.8,104.8 403.6,104.7C404.5,104.5 405.3,104.3 406.1,104.2C406.9,104 407.7,103.7 408.5,103.5C409.3,103.3 410.1,103 410.9,102.8C411.7,102.5 412.5,102.2 413.3,102C414.1,101.7 414.9,101.3 415.7,101C416.4,100.7 417.2,100.4 418,100C418.7,99.6 419.5,99.3 420.3,98.9C421,98.5 421.8,98.1 422.5,97.7C423.3,97.3 424,96.9 424.7,96.4C425.5,96 426.2,95.5 426.9,95.1C427.6,94.6 428.3,94.1 429.1,93.7C429.8,93.2 430.5,92.7 431.2,92.2C431.8,91.7 432.5,91.1 433.2,90.6C433.9,90.1 434.6,89.5 435.2,89C435.9,88.5 436.6,87.9 437.2,87.3C437.9,86.8 438.5,86.2 439.2,85.6C439.8,85 440.4,84.5 441.1,83.9C441.7,83.3 442.3,82.7 442.9,82C443.5,81.4 444.1,80.8 444.7,80.2C445.3,79.6 445.9,79 446.5,78.3C447.1,77.7 447.7,77 448.2,76.4C448.8,75.8 449.4,75.1 449.9,74.5C450.4,73.8 451,73.2 451.5,72.5C452.1,71.8 452.6,71.2 453.1,70.5C453.6,69.8 454.1,69.2 454.6,68.5C455.1,67.8 455.6,67.2 456.1,66.5C456.6,65.8 457.1,65.1 457.6,64.4C458,63.7 458.5,63 459,62.3C459.4,61.6 459.9,60.9 460.3,60.2C460.8,59.5 461.2,58.8 461.7,58.1C462.1,57.4 462.5,56.7 462.9,56C463.4,55.3 463.8,54.6 464.2,53.8C464.6,53.1 465,52.4 465.4,51.7C465.8,50.9 466.2,50.2 466.6,49.5C467,48.7 467.4,48 467.8,47.2C468.1,46.5 468.5,45.8 468.9,45C469.3,44.3 469.6,43.5 470,42.8C470.4,42 470.7,41.3 471.1,40.5C471.4,39.7 471.8,39 472.1,38.2C472.5,37.5 472.8,36.7 473.2,35.9C473.5,35.2 473.8,34.4 474.2,33.6C474.5,32.8 474.8,32.1 475.2,31.3C475.5,30.5 475.8,29.7 476.1,28.9C476.4,28.1 476.8,27.4 477.1,26.6C477.4,25.8 477.7,25 478,24.2C478.3,23.4 478.6,22.6 478.9,21.8C479.3,21 479.6,20.2 479.9,19.4C480.2,18.6 480.5,17.8 480.8,17C481.1,16.2 481.4,15.4 481.7,14.6C482,13.8 482.3,13 482.5,12.2C482.8,11.3 483.1,10.5 483.4,9.7C483.7,8.9 484.2,7.7 484.3,7.3" stroke="#2a2aff" stroke-width="1.15" fill="none"/>
<path d="M355.1,7.4C355.2,7.8 355.5,9.1 355.7,10C355.9,10.9 356,11.7 356.2,12.6C356.3,13.4 356.5,14.3 356.6,15.1C356.7,16 356.9,16.8 357,17.7C357.1,18.5 357.2,19.4 357.4,20.2C357.5,21 357.6,21.9 357.7,22.7C357.8,23.6 357.9,24.4 358,25.2C358.1,26 358.2,26.9 358.3,27.7C358.4,28.5 358.5,29.4 358.6,30.2C358.7,31 358.7,31.9 358.8,32.7C358.9,33.5 359,34.3 359.1,35.2C359.2,36 359.3,36.8 359.4,37.6C359.5,38.5 359.6,39.3 359.7,40.1C359.8,40.9 359.9,41.8 360,42.6C360.1,43.4 360.2,44.3 360.4,45.1C360.5,45.9 360.6,46.8 360.7,47.6C360.9,48.4 361,49.3 361.1,50.1C361.3,51 361.4,51.8 361.6,52.7C361.7,53.5 361.9,54.4 362.1,55.2C362.3,56.1 362.5,56.9 362.6,57.8C362.8,58.6 363,59.5 363.3,60.4C363.5,61.2 363.7,62.1 364,63C364.2,63.8 364.4,64.7 364.7,65.6C365,66.4 365.3,67.3 365.6,68.1C365.9,69 366.2,69.9 366.5,70.7C366.8,71.5 367.2,72.3 367.5,73.2C367.9,74 368.3,74.8 368.7,75.5C369.1,76.3 369.5,77.1 369.9,77.8C370.4,78.6 370.8,79.3 371.3,80C371.8,80.7 372.3,81.3 372.8,82C373.3,82.6 373.9,83.2 374.4,83.8C375,84.4 375.6,85 376.2,85.5C376.8,86 377.5,86.5 378.2,86.9C378.8,87.3 379.5,87.8 380.2,88.1C381,88.5 381.7,88.8 382.4,89.1C383.2,89.4 384,89.6 384.8,89.8C385.5,90.1 386.3,90.2 387.1,90.3C388,90.5 388.8,90.5 389.6,90.6C390.4,90.6 391.3,90.6 392.1,90.6C393,90.5 393.8,90.5 394.7,90.3C395.5,90.2 396.4,90.1 397.3,89.9C398.1,89.7 399,89.5 399.8,89.3C400.7,89.1 401.5,88.8 402.4,88.6C403.2,88.3 404,88 404.9,87.7C405.7,87.4 406.5,87.1 407.3,86.7C408.1,86.4 408.9,86 409.7,85.7C410.4,85.3 411.2,84.9 412,84.5C412.7,84.1 413.5,83.7 414.2,83.3C415,82.9 415.7,82.5 416.4,82C417.1,81.6 417.8,81.1 418.5,80.7C419.2,80.2 419.9,79.7 420.6,79.2C421.3,78.7 422,78.2 422.6,77.7C423.3,77.2 424,76.7 424.6,76.1C425.2,75.6 425.9,75.1 426.5,74.5C427.1,73.9 427.8,73.4 428.4,72.8C429,72.2 429.6,71.6 430.2,71C430.8,70.4 431.4,69.8 432,69.2C432.5,68.6 433.1,68 433.7,67.4C434.2,66.7 434.8,66.1 435.3,65.4C435.9,64.8 436.4,64.1 437,63.5C437.5,62.8 438,62.2 438.6,61.5C439.1,60.8 439.6,60.1 440.1,59.4C440.6,58.7 441.1,58 441.6,57.3C442.1,56.6 442.6,55.9 443.1,55.2C443.6,54.5 444,53.8 444.5,53.1C445,52.3 445.4,51.6 445.9,50.9C446.3,50.2 446.8,49.4 447.2,48.7C447.7,47.9 448.1,47.2 448.6,46.4C449,45.7 449.4,44.9 449.9,44.2C450.3,43.4 450.7,42.7 451.1,41.9C451.5,41.2 452,40.4 452.4,39.6C452.8,38.9 453.2,38.1 453.6,37.3C454,36.6 454.4,35.8 454.8,35C455.1,34.2 455.5,33.5 455.9,32.7C456.3,31.9 456.7,31.2 457,30.4C457.4,29.6 457.8,28.8 458.2,28.1C458.5,27.3 458.9,26.5 459.2,25.7C459.6,25 460,24.2 460.3,23.4C460.7,22.7 461,21.9 461.4,21.1C461.7,20.3 462.1,19.6 462.4,18.8C462.8,18.1 463.1,17.3 463.4,16.5C463.8,15.8 464.1,15 464.4,14.3C464.8,13.5 465.1,12.8 465.4,12C465.8,11.3 466.1,10.5 466.4,9.8C466.8,9 467.2,8 467.4,7.6" stroke="#ff2aff" stroke-width="1.15" fill="none"/>
<path d="M358.3,7.4C358.5,7.9 358.8,9.1 359,9.9C359.2,10.7 359.4,11.6 359.6,12.4C359.8,13.2 360,14.1 360.1,14.9C360.3,15.7 360.5,16.5 360.6,17.4C360.8,18.2 360.9,19 361,19.9C361.2,20.7 361.3,21.5 361.4,22.4C361.5,23.2 361.7,24 361.8,24.9C361.9,25.7 362,26.5 362.1,27.4C362.2,28.2 362.3,29 362.5,29.9C362.6,30.7 362.7,31.6 362.8,32.4C362.9,33.2 363,34.1 363.2,34.9C363.3,35.7 363.4,36.6 363.6,37.4C363.7,38.2 363.8,39.1 364,39.9C364.2,40.7 364.3,41.6 364.5,42.4C364.6,43.2 364.8,44.1 365,44.9C365.2,45.7 365.4,46.6 365.6,47.4C365.8,48.2 366.1,49.1 366.3,49.9C366.6,50.7 366.8,51.6 367.1,52.4C367.4,53.2 367.7,54 368,54.9C368.3,55.7 368.6,56.5 369,57.3C369.3,58.2 369.7,59 370.1,59.8C370.5,60.6 370.9,61.4 371.3,62.1C371.7,62.9 372.2,63.7 372.7,64.4C373.1,65.1 373.6,65.9 374.2,66.5C374.7,67.2 375.2,67.9 375.8,68.5C376.3,69.1 376.9,69.7 377.5,70.3C378.1,70.9 378.8,71.4 379.4,71.9C380.1,72.3 380.7,72.8 381.4,73.2C382.1,73.6 382.9,73.9 383.6,74.2C384.3,74.5 385.1,74.8 385.9,75C386.6,75.2 387.4,75.4 388.2,75.5C389,75.6 389.8,75.7 390.6,75.7C391.4,75.7 392.2,75.7 393.1,75.6C393.9,75.6 394.7,75.5 395.5,75.3C396.3,75.2 397.1,75 397.9,74.7C398.7,74.5 399.5,74.2 400.3,73.9C401.1,73.6 401.9,73.3 402.6,72.9C403.4,72.5 404.2,72.1 404.9,71.7C405.7,71.3 406.4,70.8 407.2,70.3C407.9,69.9 408.7,69.4 409.4,68.8C410.1,68.3 410.8,67.8 411.5,67.3C412.2,66.8 412.9,66.2 413.6,65.7C414.3,65.1 415,64.5 415.6,64C416.3,63.4 416.9,62.8 417.6,62.3C418.2,61.7 418.8,61.1 419.4,60.5C420,59.9 420.6,59.3 421.2,58.7C421.8,58.1 422.4,57.4 423,56.8C423.6,56.2 424.1,55.6 424.7,54.9C425.3,54.3 425.8,53.7 426.3,53C426.9,52.4 427.4,51.7 427.9,51C428.5,50.4 429,49.7 429.5,49C430,48.4 430.5,47.7 431,47C431.5,46.3 432,45.7 432.5,45C433,44.3 433.4,43.6 433.9,42.9C434.4,42.2 434.8,41.5 435.3,40.8C435.8,40.1 436.2,39.3 436.7,38.6C437.1,37.9 437.6,37.2 438,36.5C438.4,35.8 438.9,35 439.3,34.3C439.7,33.6 440.2,32.8 440.6,32.1C441,31.4 441.4,30.6 441.9,29.9C442.3,29.2 442.7,28.4 443.1,27.7C443.5,26.9 443.9,26.2 444.3,25.5C444.7,24.7 445.1,24 445.6,23.2C446,22.5 446.4,21.7 446.8,21C447.2,20.2 447.6,19.5 448,18.7C448.4,18 448.8,17.2 449.2,16.4C449.6,15.7 449.9,14.9 450.3,14.2C450.7,13.4 451.1,12.7 451.5,11.9C451.9,11.2 452.3,10.4 452.7,9.7C453.1,8.9 453.8,7.8 454,7.4" stroke="#2a962a" stroke-width="1.15" fill="none"/>
</g>
<rect x="45.5" y="217" width="195.7" height="143.5" fill="none" stroke="#3c3c3c" stroke-width="1.1"/>
<path d="M45.5,360.5v3M55.3,360.5v1.6M65.1,360.5v3M74.9,360.5v1.6M84.6,360.5v3M94.4,360.5v1.6M104.2,360.5v3M114,360.5v1.6M123.8,360.5v3M133.6,360.5v1.6M143.3,360.5v3M153.1,360.5v1.6M162.9,360.5v3M172.7,360.5v1.6M182.5,360.5v3M192.3,360.5v1.6M202.1,360.5v3M211.8,360.5v1.6M221.6,360.5v3M231.4,360.5v1.6M241.2,360.5v3M45.5,360.5h-3M45.5,346.1h-1.6M45.5,331.8h-3M45.5,317.4h-1.6M45.5,303.1h-3M45.5,288.8h-1.6M45.5,274.4h-3M45.5,260.1h-1.6M45.5,245.7h-3M45.5,231.3h-1.6M45.5,217h-3" stroke="#3c3c3c" stroke-width="1" fill="none"/>
<text x="45.5" y="372.6" text-anchor="middle" class="t">0</text>
<text x="65.1" y="372.6" text-anchor="middle" class="t">0.1</text>
<text x="84.6" y="372.6" text-anchor="middle" class="t">0.2</text>
<text x="104.2" y="372.6" text-anchor="middle" class="t">0.3</text>
<text x="123.8" y="372.6" text-anchor="middle" class="t">0.4</text>
<text x="143.3" y="372.6" text-anchor="middle" class="t">0.5</text>
<text x="162.9" y="372.6" text-anchor="middle" class="t">0.6</text>
<text x="182.5" y="372.6" text-anchor="middle" class="t">0.7</text>
<text x="202.1" y="372.6" text-anchor="middle" class="t">0.8</text>
<text x="221.6" y="372.6" text-anchor="middle" class="t">0.9</text>
<text x="241.2" y="372.6" text-anchor="middle" class="t">1</text>
<text x="41" y="363.1" text-anchor="end" class="t">0</text>
<text x="41" y="334.4" text-anchor="end" class="t">400</text>
<text x="41" y="305.7" text-anchor="end" class="t">800</text>
<text x="41" y="277" text-anchor="end" class="t">1200</text>
<text x="41" y="248.3" text-anchor="end" class="t">1600</text>
<text x="41" y="219.6" text-anchor="end" class="t">2000</text>
<text transform="translate(9.9,288.8) rotate(-90)" text-anchor="middle" class="yt">Flow stress (MPa)</text>
<text x="143.3" y="388.4" class="xt" text-anchor="middle"><tspan font-style="italic">T</tspan>/<tspan font-style="italic">T</tspan><tspan font-style="italic" font-size="7" dy="2.2">m</tspan></text>
<text x="71.5" y="232" class="t">(c) <tspan font-style="italic">m</tspan><tspan dx="-0.6"> = 5, </tspan><tspan class="eps" dx="0.6">ε</tspan><tspan dx="1.7">=</tspan><tspan dx="-0.3"> 0.5</tspan></text>
<clipPath id="cpc"><rect x="45.5" y="217" width="195.7" height="143.5"/></clipPath>
<g clip-path="url(#cpc)">
<path d="M47.5,217.1C47.6,217.5 47.8,218.7 47.9,219.6C48,220.4 48.2,221.2 48.3,222C48.4,222.9 48.5,223.7 48.6,224.5C48.7,225.4 48.8,226.2 48.9,227C49,227.9 49,228.7 49.1,229.6C49.2,230.4 49.3,231.2 49.3,232.1C49.4,232.9 49.5,233.7 49.6,234.6C49.6,235.4 49.7,236.3 49.7,237.1C49.8,238 49.8,238.8 49.9,239.6C49.9,240.5 50,241.3 50,242.2C50.1,243 50.1,243.9 50.2,244.7C50.2,245.6 50.3,246.4 50.3,247.3C50.3,248.1 50.4,249 50.4,249.8C50.5,250.6 50.5,251.5 50.5,252.3C50.6,253.2 50.6,254 50.7,254.9C50.7,255.7 50.7,256.6 50.8,257.4C50.8,258.3 50.9,259.1 50.9,260C51,260.8 51,261.7 51.1,262.5C51.1,263.4 51.1,264.2 51.2,265.1C51.3,265.9 51.3,266.8 51.4,267.6C51.4,268.5 51.5,269.3 51.5,270.2C51.6,271 51.7,271.8 51.7,272.7C51.8,273.5 51.9,274.4 52,275.2C52.1,276.1 52.1,276.9 52.2,277.8C52.3,278.6 52.4,279.4 52.5,280.3C52.6,281.1 52.7,282 52.8,282.8C52.9,283.6 53.1,284.5 53.2,285.3C53.3,286.2 53.4,287 53.6,287.8C53.7,288.7 53.8,289.5 54,290.3C54.1,291.2 54.3,292 54.5,292.8C54.6,293.7 54.8,294.5 55,295.3C55.2,296.1 55.4,297 55.6,297.8C55.8,298.6 56,299.4 56.2,300.3C56.4,301.1 56.6,301.9 56.9,302.7C57.1,303.5 57.4,304.3 57.6,305.2C57.9,306 58.2,306.8 58.4,307.6C58.7,308.4 59,309.2 59.3,310C59.6,310.8 59.9,311.6 60.3,312.4C60.6,313.2 60.9,314 61.3,314.7C61.6,315.5 62,316.3 62.4,317C62.8,317.8 63.1,318.5 63.6,319.3C64,320 64.4,320.7 64.8,321.4C65.3,322.1 65.7,322.8 66.2,323.5C66.6,324.2 67.1,324.8 67.6,325.5C68.1,326.1 68.6,326.8 69.2,327.4C69.7,328 70.3,328.6 70.8,329.2C71.4,329.7 72,330.3 72.6,330.8C73.2,331.4 73.8,331.9 74.4,332.4C75.1,332.8 75.7,333.3 76.4,333.7C77.1,334.2 77.8,334.6 78.5,335C79.2,335.4 80,335.8 80.7,336.1C81.5,336.5 82.2,336.8 83,337.1C83.8,337.4 84.6,337.7 85.4,338C86.1,338.3 87,338.6 87.8,338.9C88.6,339.1 89.4,339.4 90.3,339.6C91.1,339.8 91.9,340 92.8,340.3C93.6,340.5 94.5,340.7 95.3,340.9C96.2,341.1 97,341.3 97.9,341.5C98.8,341.7 99.6,341.9 100.5,342C101.3,342.2 102.2,342.4 103.1,342.6C103.9,342.8 104.8,343 105.6,343.2C106.5,343.3 107.3,343.5 108.1,343.7C109,343.9 109.8,344.1 110.7,344.3C111.5,344.5 112.3,344.7 113.2,344.9C114,345.1 114.8,345.3 115.6,345.5C116.5,345.7 117.3,345.9 118.1,346.1C118.9,346.3 119.7,346.5 120.6,346.7C121.4,346.9 122.2,347.1 123,347.3C123.8,347.5 124.6,347.7 125.4,347.9C126.3,348.1 127.1,348.3 127.9,348.5C128.7,348.7 129.5,348.9 130.3,349.1C131.1,349.3 131.9,349.5 132.8,349.7C133.6,349.9 134.4,350.1 135.2,350.3C136,350.5 136.8,350.7 137.6,350.9C138.5,351.1 139.3,351.3 140.1,351.5C140.9,351.7 141.7,351.8 142.6,352C143.4,352.2 144.2,352.4 145,352.6C145.8,352.7 146.7,352.9 147.5,353.1C148.3,353.3 149.1,353.4 150,353.6C150.8,353.8 151.6,353.9 152.4,354.1C153.3,354.3 154.1,354.4 154.9,354.6C155.8,354.7 156.6,354.9 157.4,355C158.3,355.2 159.1,355.3 159.9,355.4C160.8,355.6 161.6,355.7 162.4,355.8C163.3,356 164.1,356.1 164.9,356.2C165.8,356.3 166.6,356.4 167.4,356.5C168.3,356.6 169.1,356.7 170,356.8C170.8,356.9 171.6,357 172.5,357.1C173.3,357.2 174.2,357.3 175,357.3C175.9,357.4 176.7,357.5 177.6,357.5C178.4,357.6 179.2,357.6 180.1,357.7C180.9,357.7 181.8,357.8 182.6,357.8C183.5,357.8 184.3,357.9 185.2,357.9C186,357.9 186.9,357.9 187.7,357.9C188.6,358 189.5,358 190.3,358C191.2,358 192,358 192.9,358C193.7,358 194.6,358 195.4,358C196.3,358 197.1,358 198,358C198.8,358 199.7,358 200.5,358C201.4,358 202.3,357.9 203.1,357.9C204,358 204.8,358.2 205.7,358.2C206.5,358.2 207.4,358.2 208.2,358.2C209.1,358.2 210.4,358.2 210.8,358.2" stroke="#2a2a2a" stroke-width="1.15" fill="none"/>
<path d="M49.9,217.2C49.9,217.6 50.2,218.7 50.4,219.5C50.5,220.3 50.7,221.1 50.8,221.9C50.9,222.7 51.1,223.6 51.2,224.4C51.3,225.2 51.5,226 51.6,226.8C51.7,227.6 51.8,228.4 51.9,229.3C52,230.1 52.1,230.9 52.2,231.7C52.2,232.6 52.3,233.4 52.4,234.2C52.5,235.1 52.6,235.9 52.6,236.8C52.7,237.6 52.8,238.4 52.8,239.3C52.9,240.1 53,241 53,241.8C53.1,242.7 53.1,243.5 53.2,244.3C53.2,245.2 53.3,246 53.3,246.9C53.4,247.7 53.5,248.6 53.5,249.5C53.6,250.3 53.6,251.2 53.7,252C53.7,252.9 53.8,253.7 53.8,254.6C53.9,255.4 53.9,256.3 54,257.1C54,258 54.1,258.8 54.2,259.7C54.2,260.6 54.3,261.4 54.4,262.3C54.4,263.1 54.5,264 54.6,264.8C54.7,265.7 54.7,266.5 54.8,267.4C54.9,268.2 55,269.1 55.1,269.9C55.2,270.8 55.3,271.6 55.4,272.4C55.5,273.3 55.6,274.1 55.7,275C55.9,275.8 56,276.6 56.1,277.5C56.3,278.3 56.4,279.2 56.6,280C56.7,280.8 56.9,281.6 57.1,282.5C57.2,283.3 57.4,284.1 57.6,284.9C57.8,285.8 58,286.6 58.2,287.4C58.4,288.2 58.6,289 58.9,289.8C59.1,290.6 59.3,291.4 59.6,292.2C59.8,293 60.1,293.8 60.4,294.6C60.7,295.4 61,296.2 61.3,297C61.6,297.7 61.9,298.5 62.2,299.3C62.6,300.1 62.9,300.8 63.3,301.6C63.6,302.3 64,303.1 64.4,303.8C64.8,304.6 65.2,305.3 65.6,306C66,306.8 66.5,307.5 66.9,308.2C67.4,308.9 67.8,309.6 68.3,310.3C68.8,310.9 69.2,311.6 69.7,312.3C70.2,312.9 70.8,313.6 71.3,314.2C71.8,314.8 72.4,315.4 72.9,316C73.5,316.6 74.1,317.2 74.6,317.8C75.2,318.4 75.8,318.9 76.5,319.4C77.1,320 77.7,320.5 78.3,321C79,321.5 79.7,322 80.3,322.4C81,322.9 81.7,323.3 82.4,323.7C83.1,324.1 83.8,324.5 84.6,324.9C85.3,325.3 86.1,325.7 86.8,326C87.6,326.3 88.4,326.7 89.1,327C89.9,327.3 90.7,327.6 91.5,327.9C92.3,328.2 93.1,328.4 93.9,328.7C94.7,329 95.5,329.2 96.4,329.5C97.2,329.7 98,330 98.8,330.2C99.7,330.4 100.5,330.7 101.3,330.9C102.2,331.1 103,331.4 103.8,331.6C104.7,331.8 105.5,332 106.3,332.3C107.1,332.5 108,332.7 108.8,333C109.6,333.2 110.4,333.4 111.2,333.7C112,333.9 112.9,334.1 113.7,334.4C114.5,334.6 115.3,334.8 116.1,335.1C116.9,335.3 117.7,335.6 118.5,335.8C119.3,336.1 120.1,336.3 120.9,336.6C121.7,336.8 122.5,337.1 123.3,337.3C124.1,337.6 124.9,337.8 125.7,338.1C126.5,338.4 127.3,338.6 128.1,338.9C128.9,339.2 129.7,339.5 130.5,339.8C131.3,340 132.1,340.3 132.8,340.6C133.6,340.9 134.4,341.2 135.2,341.5C136,341.8 136.8,342.1 137.5,342.4C138.3,342.7 139.1,343 139.9,343.3C140.7,343.6 141.4,343.9 142.2,344.3C143,344.6 143.8,344.9 144.6,345.2C145.3,345.5 146.1,345.8 146.9,346.2C147.7,346.5 148.4,346.8 149.2,347.1C150,347.4 150.8,347.7 151.6,348C152.3,348.3 153.1,348.7 153.9,349C154.7,349.3 155.5,349.6 156.2,349.9C157,350.2 157.8,350.5 158.6,350.7C159.4,351 160.2,351.3 161,351.6C161.8,351.9 162.5,352.1 163.3,352.4C164.1,352.7 164.9,352.9 165.7,353.2C166.5,353.4 167.3,353.7 168.1,353.9C168.9,354.1 169.7,354.4 170.5,354.6C171.4,354.8 172.2,355 173,355.2C173.8,355.4 174.6,355.6 175.4,355.8C176.3,355.9 177.1,356.1 177.9,356.2C178.7,356.4 179.6,356.5 180.4,356.7C181.2,356.8 182.1,356.9 182.9,357.1C183.8,357.2 184.6,357.3 185.4,357.4C186.3,357.5 187.1,357.6 188,357.6C188.8,357.7 189.7,357.8 190.5,357.9C191.4,357.9 192.2,358 193.1,358C193.9,358.1 194.8,358.2 195.7,358.2C196.5,358.2 197.4,358.2 198.2,358.2C199.1,358.2 199.9,358.2 200.8,358.2C201.7,358.2 202.5,358.2 203.4,358.2C204.2,358.2 205.1,358.2 206,358.2C206.8,358.2 207.7,358.2 208.5,358.2C209.4,358.2 210.7,358.2 211.1,358.2" stroke="#ff2a2a" stroke-width="1.15" fill="none"/>
<path d="M52.7,217C52.7,217.4 52.9,218.7 53.1,219.5C53.2,220.4 53.3,221.2 53.4,222C53.6,222.9 53.7,223.7 53.8,224.6C53.9,225.4 54,226.2 54.1,227.1C54.2,227.9 54.3,228.8 54.4,229.6C54.5,230.4 54.7,231.3 54.8,232.1C54.9,232.9 55,233.8 55,234.6C55.1,235.5 55.2,236.3 55.3,237.1C55.4,238 55.5,238.8 55.6,239.6C55.7,240.5 55.8,241.3 55.9,242.2C56,243 56.1,243.8 56.2,244.7C56.3,245.5 56.4,246.3 56.5,247.2C56.6,248 56.7,248.8 56.8,249.7C56.9,250.5 57,251.3 57.1,252.2C57.2,253 57.3,253.9 57.5,254.7C57.6,255.5 57.7,256.4 57.8,257.2C57.9,258 58,258.9 58.2,259.7C58.3,260.5 58.4,261.4 58.6,262.2C58.7,263 58.8,263.9 59,264.7C59.1,265.5 59.3,266.4 59.4,267.2C59.6,268 59.8,268.9 59.9,269.7C60.1,270.5 60.3,271.3 60.5,272.2C60.6,273 60.8,273.8 61,274.7C61.2,275.5 61.4,276.3 61.6,277.2C61.8,278 62,278.8 62.3,279.6C62.5,280.5 62.7,281.3 63,282.1C63.2,283 63.5,283.8 63.7,284.6C64,285.4 64.3,286.3 64.5,287.1C64.8,287.9 65.1,288.7 65.4,289.5C65.7,290.3 66,291.1 66.4,291.9C66.7,292.7 67.1,293.5 67.4,294.2C67.8,295 68.2,295.8 68.6,296.5C69,297.3 69.4,298 69.8,298.7C70.2,299.4 70.7,300.1 71.1,300.8C71.6,301.5 72.1,302.1 72.6,302.8C73.1,303.4 73.6,304 74.2,304.7C74.7,305.3 75.3,305.8 75.9,306.4C76.5,306.9 77.1,307.5 77.7,308C78.4,308.5 79,309 79.7,309.5C80.3,309.9 81,310.4 81.7,310.8C82.4,311.3 83.1,311.7 83.9,312.1C84.6,312.5 85.3,312.8 86.1,313.2C86.8,313.5 87.6,313.9 88.4,314.2C89.2,314.5 90,314.8 90.7,315.1C91.5,315.4 92.3,315.6 93.2,315.9C94,316.2 94.8,316.4 95.6,316.6C96.4,316.9 97.3,317.1 98.1,317.3C98.9,317.6 99.8,317.8 100.6,318C101.4,318.2 102.3,318.4 103.1,318.6C104,318.9 104.8,319.1 105.6,319.3C106.5,319.5 107.3,319.7 108.2,319.9C109,320.2 109.8,320.4 110.7,320.6C111.5,320.9 112.3,321.1 113.1,321.3C114,321.6 114.8,321.9 115.6,322.1C116.4,322.4 117.2,322.7 118,323C118.8,323.3 119.6,323.6 120.3,324C121.1,324.3 121.9,324.7 122.6,325C123.4,325.4 124.1,325.8 124.9,326.2C125.6,326.6 126.3,327 127.1,327.4C127.8,327.9 128.5,328.3 129.2,328.7C130,329.2 130.7,329.6 131.4,330.1C132.1,330.5 132.8,331 133.5,331.5C134.2,331.9 134.9,332.4 135.6,332.9C136.3,333.4 137,333.8 137.7,334.3C138.4,334.8 139,335.3 139.7,335.8C140.4,336.3 141.1,336.7 141.8,337.2C142.5,337.7 143.2,338.2 143.9,338.6C144.6,339.1 145.3,339.6 146,340C146.7,340.5 147.5,341 148.2,341.4C148.9,341.9 149.6,342.3 150.3,342.7C151,343.2 151.8,343.6 152.5,344C153.2,344.4 154,344.8 154.7,345.2C155.4,345.6 156.2,346 156.9,346.4C157.7,346.8 158.4,347.2 159.2,347.6C159.9,347.9 160.7,348.3 161.5,348.7C162.2,349 163,349.4 163.7,349.7C164.5,350.1 165.3,350.4 166.1,350.7C166.8,351.1 167.6,351.4 168.4,351.7C169.2,352 169.9,352.3 170.7,352.6C171.5,352.9 172.3,353.2 173.1,353.5C173.9,353.8 174.7,354 175.5,354.3C176.3,354.6 177.1,354.8 177.9,355.1C178.7,355.3 179.5,355.6 180.3,355.8C181.1,356.1 181.9,356.3 182.7,356.5C183.5,356.7 184.3,356.9 185.2,357.1C186,357.3 186.8,357.5 187.6,357.7C188.4,357.9 189.3,358.1 190.1,358.2C190.9,358.3 191.7,358.2 192.6,358.2C193.4,358.2 194.2,358.2 195,358.2C195.9,358.2 196.7,358.2 197.5,358.2C198.4,358.2 199.2,358.2 200.1,358.2C200.9,358.2 201.7,358.2 202.6,358.2C203.4,358.2 204.3,358.2 205.1,358.2C206,358.2 206.8,358.2 207.6,358.2C208.5,358.2 209.8,358.2 210.2,358.2" stroke="#2a2aff" stroke-width="1.15" fill="none"/>
<path d="M55.4,217.1C55.5,217.5 55.8,218.7 56,219.5C56.2,220.3 56.4,221.1 56.6,221.9C56.8,222.7 57,223.5 57.1,224.3C57.3,225.1 57.4,225.9 57.6,226.7C57.7,227.5 57.9,228.4 58,229.2C58.1,230 58.3,230.8 58.4,231.6C58.5,232.5 58.6,233.3 58.8,234.1C58.9,235 59,235.8 59.1,236.6C59.2,237.5 59.3,238.3 59.4,239.1C59.5,240 59.6,240.8 59.7,241.7C59.8,242.5 59.9,243.3 60.1,244.2C60.2,245 60.3,245.9 60.4,246.7C60.5,247.6 60.6,248.4 60.7,249.3C60.8,250.1 60.9,251 61.1,251.8C61.2,252.7 61.3,253.5 61.4,254.4C61.6,255.2 61.7,256.1 61.8,256.9C62,257.8 62.1,258.6 62.3,259.5C62.4,260.3 62.6,261.2 62.8,262C62.9,262.9 63.1,263.7 63.3,264.6C63.5,265.4 63.7,266.3 63.9,267.1C64.1,267.9 64.3,268.8 64.6,269.6C64.8,270.5 65,271.3 65.3,272.1C65.5,272.9 65.8,273.7 66.1,274.5C66.4,275.3 66.7,276.1 67,276.9C67.3,277.7 67.7,278.5 68,279.2C68.4,280 68.7,280.7 69.1,281.5C69.5,282.2 69.9,282.9 70.4,283.6C70.8,284.3 71.3,285 71.7,285.6C72.2,286.3 72.7,286.9 73.2,287.5C73.7,288.2 74.3,288.8 74.8,289.4C75.4,289.9 75.9,290.5 76.5,291.1C77.1,291.6 77.7,292.2 78.3,292.7C78.9,293.2 79.6,293.7 80.2,294.2C80.9,294.7 81.5,295.2 82.2,295.7C82.9,296.2 83.6,296.6 84.3,297.1C85,297.5 85.7,298 86.4,298.4C87.1,298.8 87.8,299.3 88.6,299.7C89.3,300.1 90,300.5 90.8,300.9C91.5,301.3 92.3,301.6 93.1,302C93.8,302.4 94.6,302.8 95.4,303.1C96.2,303.5 96.9,303.8 97.7,304.2C98.5,304.5 99.3,304.9 100.1,305.2C100.9,305.5 101.7,305.9 102.5,306.2C103.3,306.5 104.1,306.8 104.8,307.1C105.6,307.5 106.4,307.8 107.2,308.1C108,308.4 108.8,308.7 109.6,309C110.4,309.3 111.2,309.7 111.9,310C112.7,310.3 113.5,310.6 114.3,310.9C115,311.3 115.8,311.6 116.6,311.9C117.3,312.3 118.1,312.6 118.8,313C119.6,313.3 120.3,313.7 121.1,314.1C121.8,314.4 122.5,314.8 123.3,315.2C124,315.6 124.7,316.1 125.4,316.5C126.1,316.9 126.8,317.4 127.5,317.8C128.2,318.3 128.9,318.7 129.6,319.2C130.2,319.7 130.9,320.2 131.6,320.7C132.3,321.2 132.9,321.7 133.6,322.2C134.2,322.7 134.9,323.2 135.5,323.8C136.2,324.3 136.8,324.9 137.5,325.4C138.1,326 138.7,326.5 139.4,327.1C140,327.7 140.6,328.2 141.2,328.8C141.9,329.4 142.5,330 143.1,330.6C143.7,331.1 144.3,331.7 145,332.3C145.6,332.9 146.2,333.5 146.8,334.1C147.4,334.7 148.1,335.3 148.7,335.8C149.3,336.4 149.9,337 150.6,337.6C151.2,338.2 151.8,338.7 152.4,339.3C153.1,339.9 153.7,340.4 154.4,341C155,341.6 155.6,342.1 156.3,342.6C156.9,343.2 157.6,343.7 158.2,344.2C158.9,344.7 159.6,345.3 160.3,345.7C160.9,346.2 161.6,346.7 162.3,347.2C163,347.7 163.7,348.1 164.4,348.6C165.1,349 165.8,349.4 166.5,349.8C167.3,350.2 168,350.6 168.7,351C169.5,351.4 170.2,351.7 171,352.1C171.7,352.4 172.5,352.8 173.3,353.1C174,353.4 174.8,353.7 175.6,354C176.4,354.3 177.2,354.5 178,354.8C178.8,355 179.6,355.3 180.4,355.5C181.3,355.7 182.1,355.9 182.9,356.1C183.7,356.3 184.6,356.5 185.4,356.6C186.3,356.8 187.1,357 188,357.1C188.8,357.3 189.7,357.4 190.5,357.5C191.4,357.6 192.2,357.7 193.1,357.8C194,357.9 194.8,358 195.7,358.1C196.6,358.2 197.4,358.2 198.3,358.2C199.2,358.2 200.1,358.2 201,358.2C201.8,358.2 202.7,358.2 203.6,358.2C204.5,358.2 205.3,358.2 206.2,358.2C207.1,358.2 208,358.2 208.9,358.2C209.7,358.2 211,358.2 211.5,358.2" stroke="#ff2aff" stroke-width="1.15" fill="none"/>
<path d="M65,217.1C65.1,217.4 65.4,218.6 65.7,219.4C65.9,220.2 66.1,221 66.2,221.8C66.4,222.6 66.6,223.4 66.7,224.2C66.9,225 67,225.8 67.1,226.7C67.3,227.5 67.4,228.3 67.5,229.1C67.6,230 67.7,230.8 67.8,231.7C67.9,232.5 68,233.4 68,234.2C68.1,235.1 68.2,235.9 68.3,236.8C68.4,237.6 68.4,238.5 68.5,239.4C68.6,240.2 68.7,241.1 68.7,241.9C68.8,242.8 68.9,243.7 69,244.5C69,245.4 69.1,246.3 69.2,247.1C69.3,248 69.4,248.9 69.5,249.7C69.6,250.6 69.7,251.4 69.8,252.3C70,253.2 70.1,254 70.2,254.9C70.4,255.7 70.5,256.6 70.7,257.4C70.9,258.3 71.1,259.1 71.3,259.9C71.5,260.8 71.7,261.6 71.9,262.4C72.1,263.2 72.4,264 72.6,264.8C72.9,265.6 73.2,266.4 73.5,267.2C73.8,268 74.1,268.7 74.5,269.5C74.8,270.2 75.2,271 75.6,271.7C76,272.4 76.4,273.1 76.9,273.8C77.3,274.5 77.8,275.1 78.3,275.8C78.8,276.4 79.3,277.1 79.8,277.7C80.4,278.3 80.9,278.9 81.5,279.5C82.1,280.1 82.7,280.7 83.3,281.2C83.9,281.8 84.5,282.3 85.2,282.8C85.8,283.4 86.5,283.9 87.1,284.4C87.8,284.9 88.5,285.4 89.2,285.9C89.9,286.3 90.6,286.8 91.3,287.3C92,287.7 92.7,288.2 93.4,288.6C94.2,289 94.9,289.4 95.6,289.9C96.4,290.3 97.1,290.7 97.9,291.1C98.6,291.5 99.4,291.9 100.1,292.2C100.9,292.6 101.7,293 102.4,293.4C103.2,293.8 104,294.1 104.7,294.5C105.5,294.9 106.3,295.3 107,295.6C107.8,296 108.6,296.4 109.4,296.7C110.1,297.1 110.9,297.5 111.6,297.9C112.4,298.2 113.2,298.6 113.9,299C114.7,299.4 115.4,299.8 116.2,300.2C116.9,300.6 117.7,301 118.4,301.4C119.1,301.8 119.9,302.2 120.6,302.6C121.3,303 122,303.5 122.7,303.9C123.4,304.4 124.1,304.8 124.8,305.3C125.4,305.8 126.1,306.3 126.8,306.8C127.4,307.3 128.1,307.8 128.7,308.3C129.3,308.9 130,309.4 130.6,310C131.2,310.5 131.7,311.1 132.3,311.7C132.9,312.3 133.5,312.9 134,313.5C134.6,314.2 135.1,314.8 135.7,315.5C136.2,316.1 136.7,316.8 137.3,317.4C137.8,318.1 138.3,318.8 138.8,319.5C139.3,320.1 139.9,320.8 140.4,321.5C140.9,322.2 141.4,322.9 141.9,323.6C142.4,324.3 142.9,325 143.4,325.7C143.9,326.4 144.5,327.1 145,327.8C145.5,328.4 146,329.1 146.6,329.8C147.1,330.5 147.6,331.2 148.2,331.8C148.7,332.5 149.3,333.2 149.8,333.9C150.4,334.5 150.9,335.2 151.5,335.8C152.1,336.5 152.6,337.1 153.2,337.7C153.8,338.3 154.4,339 155,339.6C155.6,340.2 156.2,340.8 156.8,341.3C157.4,341.9 158.1,342.5 158.7,343C159.3,343.6 160,344.1 160.6,344.7C161.3,345.2 161.9,345.7 162.6,346.2C163.3,346.7 163.9,347.2 164.6,347.6C165.3,348.1 166,348.5 166.7,348.9C167.4,349.4 168.1,349.8 168.9,350.2C169.6,350.6 170.3,350.9 171.1,351.3C171.8,351.6 172.6,352 173.3,352.3C174.1,352.6 174.9,353 175.7,353.3C176.4,353.6 177.2,353.8 178,354.1C178.8,354.4 179.6,354.6 180.4,354.9C181.2,355.1 182,355.4 182.8,355.6C183.6,355.8 184.5,356 185.3,356.2C186.1,356.4 186.9,356.6 187.8,356.7C188.6,356.9 189.5,357.1 190.3,357.2C191.1,357.4 192,357.5 192.8,357.6C193.7,357.8 194.5,357.9 195.4,358C196.3,358.1 197.1,358.2 198,358.2C198.8,358.2 199.7,358.2 200.6,358.2C201.4,358.2 202.3,358.2 203.2,358.2C204,358.2 204.9,358.2 205.8,358.2C206.6,358.2 207.5,358.2 208.4,358.2C209.3,358.2 210.1,358.2 211,358.2C211.9,358.2 212.7,358.2 213.6,358.2C214.5,358.2 215.3,358.2 216.2,358.2C217.1,358.2 217.9,358.2 218.8,358.2C219.6,358.2 220.5,358.2 221.4,358.2C222.2,358.2 223.1,358.2 223.9,358.2C224.8,358.2 225.6,358.2 226.4,358.2C227.3,358.2 228.1,358.2 228.9,358.2C229.8,358.2 230.6,358.2 231.4,358.2C232.2,358.2 233.1,358.2 233.9,358.2C234.7,358.2 235.5,358.2 236.3,358.2C237.1,358.2 237.9,358.2 238.7,358.2C239.4,358.2 240.6,358.2 241,358.2" stroke="#2a962a" stroke-width="1.15" fill="none"/>
</g>
<rect x="349.4" y="216.9" width="195.7" height="143.5" fill="none" stroke="#3c3c3c" stroke-width="1.1"/>
<path d="M349.4,360.4v3M359.2,360.4v1.6M369,360.4v3M378.8,360.4v1.6M388.5,360.4v3M398.3,360.4v1.6M408.1,360.4v3M417.9,360.4v1.6M427.7,360.4v3M437.5,360.4v1.6M447.2,360.4v3M457,360.4v1.6M466.8,360.4v3M476.6,360.4v1.6M486.4,360.4v3M496.2,360.4v1.6M506,360.4v3M515.7,360.4v1.6M525.5,360.4v3M535.3,360.4v1.6M545.1,360.4v3M349.4,360.4h-3M349.4,346h-1.6M349.4,331.7h-3M349.4,317.3h-1.6M349.4,303h-3M349.4,288.6h-1.6M349.4,274.3h-3M349.4,259.9h-1.6M349.4,245.6h-3M349.4,231.2h-1.6M349.4,216.9h-3" stroke="#3c3c3c" stroke-width="1" fill="none"/>
<text x="349.4" y="372.5" text-anchor="middle" class="t">0</text>
<text x="369" y="372.5" text-anchor="middle" class="t">0.1</text>
<text x="388.5" y="372.5" text-anchor="middle" class="t">0.2</text>
<text x="408.1" y="372.5" text-anchor="middle" class="t">0.3</text>
<text x="427.7" y="372.5" text-anchor="middle" class="t">0.4</text>
<text x="447.2" y="372.5" text-anchor="middle" class="t">0.5</text>
<text x="466.8" y="372.5" text-anchor="middle" class="t">0.6</text>
<text x="486.4" y="372.5" text-anchor="middle" class="t">0.7</text>
<text x="506" y="372.5" text-anchor="middle" class="t">0.8</text>
<text x="525.5" y="372.5" text-anchor="middle" class="t">0.9</text>
<text x="545.1" y="372.5" text-anchor="middle" class="t">1</text>
<text x="344.9" y="363" text-anchor="end" class="t">0</text>
<text x="344.9" y="334.3" text-anchor="end" class="t">400</text>
<text x="344.9" y="305.6" text-anchor="end" class="t">800</text>
<text x="344.9" y="276.9" text-anchor="end" class="t">1200</text>
<text x="344.9" y="248.2" text-anchor="end" class="t">1600</text>
<text x="344.9" y="219.5" text-anchor="end" class="t">2000</text>
<text transform="translate(313.8,288.6) rotate(-90)" text-anchor="middle" class="yt">Flow stress (MPa)</text>
<text x="447.2" y="388.3" class="xt" text-anchor="middle"><tspan font-style="italic">T</tspan>/<tspan font-style="italic">T</tspan><tspan font-style="italic" font-size="7" dy="2.2">m</tspan></text>
<text x="361.3" y="231.4" class="t">(d) <tspan font-style="italic">m</tspan><tspan dx="-0.6"> = 10, </tspan><tspan class="eps" dx="0.6">ε</tspan><tspan dx="1.7">=</tspan><tspan dx="-0.3"> 0.5</tspan></text>
<clipPath id="cpd"><rect x="349.4" y="216.9" width="195.7" height="143.5"/></clipPath>
<g clip-path="url(#cpd)">
<path d="M357.3,217.3C357.4,217.6 357.6,218.8 357.8,219.6C357.9,220.4 358,221.2 358.2,222C358.3,222.8 358.4,223.5 358.5,224.4C358.7,225.2 358.8,226 358.9,226.8C359,227.6 359.1,228.4 359.2,229.2C359.3,230.1 359.4,230.9 359.5,231.7C359.6,232.5 359.7,233.4 359.8,234.2C359.9,235 359.9,235.9 360,236.7C360.1,237.6 360.2,238.4 360.3,239.3C360.4,240.1 360.4,241 360.5,241.8C360.6,242.7 360.7,243.5 360.7,244.4C360.8,245.2 360.9,246.1 361,246.9C361,247.8 361.1,248.7 361.2,249.5C361.3,250.4 361.4,251.2 361.4,252.1C361.5,253 361.6,253.8 361.7,254.7C361.8,255.6 361.9,256.4 361.9,257.3C362,258.2 362.1,259 362.2,259.9C362.3,260.8 362.4,261.6 362.5,262.5C362.6,263.3 362.7,264.2 362.8,265.1C362.9,265.9 363,266.8 363.2,267.6C363.3,268.5 363.4,269.4 363.5,270.2C363.7,271.1 363.8,271.9 363.9,272.8C364.1,273.6 364.2,274.5 364.4,275.3C364.5,276.2 364.7,277 364.8,277.8C365,278.7 365.2,279.5 365.4,280.3C365.5,281.2 365.7,282 365.9,282.8C366.1,283.7 366.3,284.5 366.5,285.3C366.8,286.1 367,286.9 367.2,287.7C367.5,288.5 367.7,289.3 367.9,290.1C368.2,290.9 368.5,291.7 368.7,292.5C369,293.3 369.3,294.1 369.6,294.9C369.9,295.7 370.2,296.4 370.5,297.2C370.8,298 371.2,298.7 371.5,299.5C371.9,300.2 372.2,301 372.6,301.7C372.9,302.4 373.3,303.2 373.7,303.9C374.1,304.6 374.5,305.4 374.9,306.1C375.4,306.8 375.8,307.5 376.3,308.2C376.7,308.9 377.2,309.6 377.7,310.2C378.1,310.9 378.6,311.6 379.2,312.2C379.7,312.9 380.2,313.6 380.7,314.2C381.3,314.8 381.8,315.5 382.4,316.1C382.9,316.7 383.5,317.3 384.1,317.9C384.7,318.5 385.3,319.1 385.9,319.7C386.5,320.3 387.2,320.8 387.8,321.4C388.5,321.9 389.1,322.5 389.8,323C390.4,323.5 391.1,324 391.8,324.5C392.5,325 393.2,325.5 393.9,326C394.6,326.4 395.3,326.9 396,327.3C396.8,327.8 397.5,328.2 398.2,328.6C399,329 399.7,329.4 400.5,329.7C401.3,330.1 402,330.5 402.8,330.8C403.6,331.2 404.4,331.5 405.2,331.8C406,332.1 406.8,332.4 407.6,332.7C408.4,332.9 409.2,333.2 410,333.5C410.9,333.7 411.7,333.9 412.5,334.2C413.3,334.4 414.2,334.6 415,334.8C415.9,335 416.7,335.2 417.5,335.3C418.4,335.5 419.2,335.6 420.1,335.8C420.9,335.9 421.8,336 422.7,336.1C423.5,336.3 424.4,336.4 425.2,336.4C426.1,336.5 426.9,336.6 427.8,336.7C428.7,336.7 429.5,336.8 430.4,336.8C431.2,336.9 432.1,336.9 432.9,336.9C433.8,336.9 434.6,336.9 435.5,336.9C436.3,336.9 437.2,336.9 438,336.8C438.9,336.8 439.7,336.7 440.5,336.6C441.3,336.5 442.2,336.4 442.9,336.2C443.7,336 444.5,335.8 445.2,335.5C446,335.2 446.7,334.8 447.4,334.4C448.1,334 448.8,333.5 449.4,333C450,332.5 450.6,331.9 451.2,331.2C451.8,330.6 452.3,330 452.9,329.3C453.4,328.6 453.9,327.9 454.3,327.2C454.8,326.5 455.2,325.8 455.6,325C456,324.3 456.3,323.6 456.7,322.8C457,322 457.3,321.2 457.6,320.5C457.9,319.7 458.2,318.9 458.5,318.1C458.7,317.3 458.9,316.4 459.2,315.6C459.4,314.8 459.6,314 459.8,313.1C460,312.3 460.1,311.5 460.3,310.6C460.5,309.8 460.6,308.9 460.8,308.1C460.9,307.2 461.1,306.4 461.2,305.5C461.3,304.7 461.5,303.8 461.6,303C461.7,302.1 461.9,301.3 462,300.4C462.1,299.6 462.2,298.8 462.4,297.9C462.5,297.1 462.6,296.2 462.7,295.4C462.8,294.5 462.9,293.7 463,292.8C463.2,292 463.3,291.2 463.4,290.3C463.5,289.5 463.6,288.6 463.7,287.8C463.8,286.9 463.9,286.1 464,285.3C464.1,284.4 464.2,283.6 464.3,282.7C464.4,281.9 464.5,281.1 464.5,280.2C464.6,279.4 464.7,278.5 464.8,277.7C464.9,276.9 465,276 465.1,275.2C465.1,274.4 465.2,273.5 465.3,272.7C465.4,271.8 465.4,271 465.5,270.2C465.6,269.3 465.7,268.5 465.7,267.6C465.8,266.8 465.9,266 465.9,265.1C466,264.3 466.1,263.5 466.1,262.6C466.2,261.8 466.3,260.9 466.3,260.1C466.4,259.3 466.4,258.4 466.5,257.6C466.6,256.8 466.6,255.9 466.7,255.1C466.7,254.2 466.8,253.4 466.8,252.6C466.9,251.7 466.9,250.9 467,250C467,249.2 467.1,248.4 467.1,247.5C467.2,246.7 467.2,245.8 467.3,245C467.3,244.1 467.4,243.3 467.4,242.5C467.5,241.6 467.5,240.8 467.6,239.9C467.6,239.1 467.6,238.2 467.7,237.4C467.7,236.5 467.8,235.7 467.8,234.9C467.8,234 467.9,233.2 467.9,232.3C468,231.5 468,230.6 468,229.8C468.1,228.9 468.1,228.1 468.1,227.2C468.2,226.4 468.2,225.5 468.2,224.6C468.3,223.8 468.3,222.9 468.4,222.1C468.4,221.2 468.4,220.4 468.5,219.5C468.5,218.7 468.5,217.4 468.6,216.9" stroke="#2a2a2a" stroke-width="1.15" fill="none"/>
<path d="M359.9,217.3C360,217.7 360.2,218.8 360.4,219.6C360.5,220.3 360.7,221.1 360.8,221.9C360.9,222.6 361.1,223.4 361.2,224.2C361.3,225 361.5,225.8 361.6,226.6C361.7,227.4 361.8,228.2 361.9,229C362,229.8 362.1,230.6 362.3,231.5C362.4,232.3 362.5,233.1 362.6,234C362.7,234.8 362.8,235.6 362.9,236.5C363,237.3 363.1,238.2 363.1,239C363.2,239.8 363.3,240.7 363.4,241.6C363.5,242.4 363.6,243.3 363.7,244.1C363.8,245 363.9,245.8 364,246.7C364.1,247.6 364.2,248.4 364.3,249.3C364.4,250.2 364.5,251 364.6,251.9C364.7,252.8 364.8,253.6 364.9,254.5C365,255.4 365.2,256.2 365.3,257.1C365.4,258 365.5,258.8 365.6,259.7C365.8,260.6 365.9,261.4 366,262.3C366.2,263.1 366.3,264 366.5,264.8C366.6,265.7 366.8,266.6 366.9,267.4C367.1,268.3 367.3,269.1 367.5,269.9C367.6,270.8 367.8,271.6 368,272.5C368.2,273.3 368.4,274.1 368.6,275C368.8,275.8 369,276.6 369.3,277.4C369.5,278.2 369.7,279.1 370,279.9C370.2,280.7 370.5,281.5 370.8,282.3C371,283 371.3,283.8 371.6,284.6C371.9,285.4 372.2,286.2 372.5,286.9C372.9,287.7 373.2,288.4 373.5,289.2C373.9,289.9 374.2,290.7 374.6,291.4C375,292.1 375.4,292.9 375.8,293.6C376.2,294.3 376.6,295 377,295.7C377.4,296.4 377.9,297.1 378.3,297.7C378.8,298.4 379.3,299.1 379.8,299.7C380.3,300.4 380.8,301 381.3,301.7C381.8,302.3 382.4,302.9 382.9,303.5C383.5,304.1 384.1,304.7 384.6,305.3C385.2,305.9 385.8,306.4 386.5,307C387.1,307.6 387.7,308.1 388.3,308.6C389,309.2 389.6,309.7 390.3,310.2C391,310.7 391.7,311.2 392.4,311.7C393.1,312.2 393.8,312.6 394.5,313.1C395.2,313.5 395.9,314 396.6,314.4C397.4,314.8 398.1,315.3 398.9,315.7C399.6,316.1 400.4,316.4 401.2,316.8C401.9,317.2 402.7,317.6 403.5,317.9C404.3,318.2 405.1,318.6 405.9,318.9C406.7,319.2 407.5,319.5 408.3,319.8C409.1,320.1 410,320.3 410.8,320.6C411.6,320.9 412.4,321.1 413.3,321.3C414.1,321.5 415,321.7 415.8,321.9C416.6,322.1 417.5,322.3 418.3,322.5C419.2,322.6 420,322.8 420.9,322.9C421.7,323 422.6,323.1 423.5,323.2C424.3,323.3 425.2,323.4 426,323.5C426.9,323.5 427.7,323.6 428.6,323.6C429.5,323.6 430.3,323.7 431.2,323.6C432,323.6 432.9,323.6 433.7,323.5C434.5,323.4 435.4,323.3 436.2,323.2C437,323.1 437.8,322.9 438.6,322.7C439.4,322.5 440.2,322.2 440.9,321.9C441.6,321.6 442.4,321.3 443.1,320.9C443.8,320.5 444.5,320 445.1,319.6C445.8,319.1 446.4,318.6 447,318C447.5,317.5 448.1,316.9 448.6,316.3C449.1,315.7 449.6,315 450,314.3C450.5,313.7 450.9,312.9 451.3,312.2C451.7,311.5 452,310.7 452.3,310C452.7,309.2 453,308.4 453.3,307.6C453.5,306.8 453.8,306 454.1,305.2C454.3,304.3 454.5,303.5 454.8,302.7C455,301.8 455.2,301 455.4,300.1C455.6,299.3 455.8,298.4 455.9,297.5C456.1,296.7 456.3,295.8 456.5,295C456.6,294.1 456.8,293.3 457,292.4C457.1,291.6 457.3,290.7 457.4,289.9C457.6,289 457.7,288.2 457.9,287.4C458,286.5 458.2,285.7 458.3,284.8C458.4,284 458.5,283.2 458.7,282.3C458.8,281.5 458.9,280.6 459,279.8C459.2,279 459.3,278.1 459.4,277.3C459.5,276.5 459.6,275.6 459.7,274.8C459.8,274 459.9,273.1 460,272.3C460.1,271.5 460.2,270.6 460.3,269.8C460.4,269 460.5,268.1 460.6,267.3C460.7,266.5 460.7,265.6 460.8,264.8C460.9,264 461,263.2 461.1,262.3C461.2,261.5 461.2,260.7 461.3,259.8C461.4,259 461.5,258.2 461.5,257.4C461.6,256.5 461.7,255.7 461.7,254.9C461.8,254 461.9,253.2 462,252.4C462,251.5 462.1,250.7 462.2,249.9C462.2,249 462.3,248.2 462.4,247.4C462.4,246.5 462.5,245.7 462.5,244.9C462.6,244 462.7,243.2 462.7,242.4C462.8,241.5 462.9,240.7 462.9,239.9C463,239 463.1,238.2 463.1,237.3C463.2,236.5 463.3,235.7 463.3,234.8C463.4,234 463.5,233.1 463.5,232.3C463.6,231.4 463.7,230.6 463.7,229.7C463.8,228.9 463.9,228.1 463.9,227.2C464,226.4 464.1,225.5 464.2,224.6C464.2,223.8 464.3,222.9 464.4,222.1C464.5,221.2 464.6,220.4 464.6,219.5C464.7,218.6 464.9,217.3 464.9,216.9" stroke="#ff2a2a" stroke-width="1.15" fill="none"/>
<path d="M365.5,217.2C365.6,217.6 365.7,218.7 365.9,219.5C366,220.3 366.1,221 366.2,221.8C366.3,222.6 366.4,223.4 366.5,224.2C366.6,225 366.7,225.8 366.8,226.6C366.8,227.5 366.9,228.3 367,229.1C367.1,229.9 367.2,230.8 367.3,231.6C367.3,232.5 367.4,233.3 367.5,234.2C367.6,235 367.7,235.9 367.7,236.7C367.8,237.6 367.9,238.4 368,239.3C368.1,240.2 368.2,241 368.2,241.9C368.3,242.8 368.4,243.6 368.5,244.5C368.6,245.4 368.7,246.2 368.8,247.1C368.9,248 369,248.9 369.1,249.7C369.2,250.6 369.3,251.5 369.5,252.3C369.6,253.2 369.7,254.1 369.8,254.9C370,255.8 370.1,256.6 370.3,257.5C370.4,258.4 370.6,259.2 370.7,260.1C370.9,260.9 371.1,261.8 371.3,262.6C371.4,263.4 371.6,264.3 371.8,265.1C372.1,265.9 372.3,266.8 372.5,267.6C372.7,268.4 373,269.2 373.2,270C373.5,270.8 373.7,271.6 374,272.4C374.3,273.2 374.6,274 374.9,274.8C375.2,275.5 375.5,276.3 375.8,277.1C376.2,277.8 376.5,278.6 376.9,279.3C377.3,280 377.6,280.8 378,281.5C378.4,282.2 378.8,282.9 379.3,283.6C379.7,284.3 380.2,284.9 380.6,285.6C381.1,286.3 381.6,286.9 382.1,287.5C382.6,288.2 383.1,288.8 383.7,289.4C384.2,290 384.8,290.6 385.4,291.2C386,291.8 386.6,292.3 387.2,292.9C387.9,293.4 388.5,294 389.2,294.5C389.8,295 390.5,295.5 391.2,296C391.9,296.5 392.6,297 393.3,297.5C394,297.9 394.8,298.4 395.5,298.8C396.3,299.3 397,299.7 397.8,300.1C398.5,300.6 399.3,301 400.1,301.4C400.9,301.8 401.6,302.2 402.4,302.5C403.2,302.9 404,303.3 404.8,303.6C405.6,304 406.4,304.3 407.2,304.7C408,305 408.8,305.3 409.6,305.6C410.4,306 411.2,306.3 412,306.6C412.9,306.9 413.7,307.2 414.5,307.4C415.3,307.7 416.1,308 416.9,308.2C417.7,308.4 418.5,308.7 419.4,308.9C420.2,309.1 421.1,309.3 421.9,309.4C422.8,309.6 423.6,309.7 424.5,309.9C425.4,310 426.3,310.1 427.1,310.2C428,310.2 428.9,310.3 429.8,310.3C430.7,310.2 431.6,310.2 432.4,310.1C433.3,310 434.1,309.9 434.9,309.7C435.7,309.5 436.4,309.2 437.1,308.9C437.9,308.6 438.6,308.3 439.2,307.9C439.9,307.5 440.5,307.1 441.2,306.6C441.8,306.2 442.4,305.7 442.9,305.1C443.5,304.6 444.1,304 444.6,303.4C445.1,302.8 445.6,302.2 446.1,301.5C446.5,300.9 447,300.2 447.4,299.5C447.9,298.8 448.3,298 448.7,297.3C449.1,296.5 449.4,295.8 449.8,295C450.2,294.2 450.5,293.4 450.8,292.6C451.1,291.8 451.4,290.9 451.7,290.1C452,289.3 452.3,288.4 452.6,287.6C452.8,286.8 453.1,285.9 453.3,285.1C453.5,284.2 453.8,283.4 454,282.5C454.2,281.7 454.4,280.9 454.6,280C454.8,279.2 455,278.3 455.1,277.5C455.3,276.6 455.5,275.8 455.6,275C455.8,274.1 455.9,273.3 456,272.4C456.2,271.6 456.3,270.8 456.4,269.9C456.5,269.1 456.6,268.3 456.8,267.4C456.9,266.6 457,265.7 457,264.9C457.1,264.1 457.2,263.2 457.3,262.4C457.4,261.6 457.5,260.7 457.5,259.9C457.6,259.1 457.7,258.2 457.7,257.4C457.8,256.6 457.9,255.7 457.9,254.9C458,254.1 458.1,253.2 458.1,252.4C458.2,251.5 458.2,250.7 458.3,249.9C458.3,249 458.4,248.2 458.4,247.4C458.5,246.5 458.5,245.7 458.6,244.9C458.6,244 458.7,243.2 458.8,242.3C458.8,241.5 458.9,240.7 458.9,239.8C459,239 459.1,238.1 459.1,237.3C459.2,236.5 459.3,235.6 459.3,234.8C459.4,233.9 459.5,233.1 459.6,232.3C459.7,231.4 459.7,230.6 459.8,229.7C459.9,228.9 460,228 460.1,227.2C460.2,226.3 460.4,225.5 460.5,224.6C460.6,223.8 460.7,222.9 460.9,222.1C461,221.2 461.1,220.4 461.3,219.5C461.4,218.7 461.7,217.4 461.8,217" stroke="#2a2aff" stroke-width="1.15" fill="none"/>
<path d="M379,217C379.1,217.5 379.4,218.7 379.5,219.5C379.6,220.3 379.8,221.1 379.9,222C380,222.8 380.1,223.6 380.2,224.5C380.3,225.3 380.3,226.1 380.4,227C380.5,227.8 380.5,228.7 380.6,229.5C380.6,230.4 380.7,231.2 380.7,232.1C380.8,232.9 380.8,233.8 380.8,234.7C380.9,235.5 380.9,236.4 380.9,237.2C380.9,238.1 380.9,239 381,239.8C381,240.7 381,241.6 381,242.4C381,243.3 381.1,244.2 381.1,245.1C381.1,245.9 381.1,246.8 381.2,247.7C381.2,248.5 381.2,249.4 381.3,250.3C381.3,251.1 381.3,252 381.4,252.9C381.4,253.7 381.5,254.6 381.6,255.4C381.7,256.3 381.7,257.2 381.8,258C381.9,258.9 382,259.7 382.1,260.6C382.2,261.4 382.4,262.3 382.5,263.1C382.6,264 382.8,264.8 383,265.7C383.1,266.5 383.3,267.3 383.5,268.1C383.8,269 384,269.8 384.2,270.6C384.5,271.4 384.7,272.2 385,273C385.3,273.8 385.6,274.5 385.9,275.3C386.3,276.1 386.6,276.8 387,277.5C387.4,278.3 387.8,279 388.2,279.7C388.7,280.4 389.1,281 389.6,281.7C390.1,282.3 390.7,283 391.2,283.6C391.8,284.2 392.3,284.8 392.9,285.3C393.5,285.9 394.2,286.4 394.8,287C395.5,287.5 396.2,288 396.9,288.5C397.5,289 398.3,289.4 399,289.9C399.7,290.4 400.5,290.8 401.2,291.2C402,291.6 402.8,292 403.6,292.4C404.4,292.8 405.2,293.2 406,293.5C406.8,293.9 407.6,294.2 408.5,294.5C409.3,294.8 410.1,295.1 411,295.4C411.8,295.7 412.7,295.9 413.5,296.2C414.4,296.4 415.2,296.6 416.1,296.8C417,297 417.8,297.1 418.7,297.2C419.6,297.4 420.4,297.5 421.3,297.5C422.2,297.6 423,297.6 423.9,297.6C424.7,297.6 425.6,297.6 426.4,297.5C427.3,297.5 428.1,297.4 429,297.2C429.8,297.1 430.6,296.9 431.4,296.7C432.2,296.5 433,296.3 433.8,296C434.6,295.7 435.3,295.4 436,295.1C436.8,294.7 437.5,294.3 438.2,293.9C438.8,293.5 439.5,293 440.1,292.5C440.8,292 441.4,291.5 441.9,290.9C442.5,290.3 443.1,289.7 443.6,289.1C444.1,288.5 444.6,287.8 445,287.1C445.5,286.4 445.9,285.7 446.4,284.9C446.8,284.2 447.2,283.4 447.6,282.6C447.9,281.9 448.3,281.1 448.6,280.3C448.9,279.4 449.3,278.6 449.5,277.8C449.8,277 450.1,276.1 450.4,275.3C450.6,274.5 450.9,273.6 451.1,272.8C451.3,272 451.6,271.1 451.8,270.3C452,269.4 452.2,268.6 452.3,267.8C452.5,266.9 452.7,266.1 452.8,265.2C453,264.4 453.1,263.5 453.3,262.7C453.4,261.8 453.5,261 453.6,260.2C453.7,259.3 453.9,258.5 454,257.6C454.1,256.8 454.1,255.9 454.2,255.1C454.3,254.2 454.4,253.4 454.5,252.5C454.6,251.7 454.6,250.8 454.7,250C454.8,249.1 454.8,248.3 454.9,247.4C455,246.6 455,245.7 455.1,244.9C455.2,244 455.2,243.1 455.3,242.3C455.4,241.4 455.4,240.6 455.5,239.7C455.6,238.9 455.6,238.1 455.7,237.2C455.8,236.4 455.9,235.5 455.9,234.7C456,233.8 456.1,233 456.2,232.1C456.3,231.3 456.4,230.4 456.5,229.6C456.6,228.7 456.7,227.9 456.8,227.1C457,226.2 457.1,225.4 457.2,224.5C457.4,223.7 457.5,222.9 457.7,222C457.9,221.2 458,220.4 458.2,219.5C458.4,218.7 458.7,217.5 458.8,217" stroke="#ff2aff" stroke-width="1.15" fill="none"/>
<path d="M408,217C408,217.4 408.2,218.7 408.3,219.6C408.5,220.4 408.6,221.3 408.7,222.1C408.8,223 408.9,223.8 409.1,224.7C409.2,225.5 409.3,226.3 409.4,227.2C409.6,228 409.7,228.8 409.8,229.7C409.9,230.5 410.1,231.4 410.2,232.2C410.3,233 410.4,233.8 410.6,234.7C410.7,235.5 410.8,236.3 410.9,237.2C411.1,238 411.2,238.8 411.3,239.7C411.4,240.5 411.6,241.3 411.7,242.1C411.8,243 412,243.8 412.1,244.6C412.2,245.5 412.3,246.3 412.5,247.1C412.6,248 412.7,248.8 412.9,249.6C413,250.5 413.1,251.3 413.2,252.1C413.4,253 413.5,253.8 413.6,254.7C413.7,255.5 413.9,256.3 414,257.2C414.1,258 414.2,258.9 414.4,259.7C414.5,260.6 414.6,261.4 414.8,262.3C414.9,263.1 415.1,264 415.3,264.8C415.5,265.7 415.7,266.5 415.9,267.3C416.2,268.2 416.4,269 416.8,269.8C417.1,270.6 417.4,271.4 417.9,272.2C418.3,273 418.7,273.7 419.2,274.5C419.7,275.2 420.3,275.9 420.8,276.6C421.4,277.2 422,277.8 422.7,278.4C423.3,279 424,279.5 424.7,279.9C425.4,280.3 426.1,280.7 426.9,281C427.6,281.3 428.4,281.5 429.2,281.7C430,281.8 430.8,281.8 431.6,281.8C432.4,281.8 433.2,281.7 434,281.5C434.8,281.3 435.5,281.1 436.2,280.8C436.9,280.5 437.6,280.1 438.2,279.6C438.9,279.2 439.5,278.7 440,278.2C440.6,277.6 441.2,277 441.7,276.4C442.2,275.8 442.7,275.1 443.1,274.4C443.6,273.7 444,272.9 444.4,272.1C444.8,271.4 445.2,270.5 445.6,269.7C445.9,268.9 446.3,268.1 446.6,267.2C446.9,266.3 447.2,265.5 447.5,264.6C447.8,263.7 448,262.8 448.3,261.9C448.5,261.1 448.7,260.2 449,259.3C449.2,258.4 449.4,257.6 449.6,256.7C449.8,255.9 450,255 450.2,254.2C450.3,253.3 450.5,252.5 450.7,251.7C450.8,250.8 451,250 451.1,249.2C451.3,248.4 451.4,247.6 451.5,246.8C451.7,246 451.8,245.2 451.9,244.3C452,243.5 452.2,242.7 452.3,241.9C452.4,241.1 452.5,240.3 452.6,239.5C452.8,238.7 452.9,237.9 453,237.1C453.1,236.3 453.2,235.5 453.3,234.7C453.4,233.9 453.6,233.1 453.7,232.3C453.8,231.5 453.9,230.6 454.1,229.8C454.2,229 454.3,228.2 454.5,227.3C454.6,226.5 454.8,225.6 454.9,224.8C455.1,223.9 455.3,223.1 455.4,222.2C455.6,221.3 455.8,220.5 456,219.6C456.2,218.7 456.5,217.3 456.6,216.9" stroke="#2a962a" stroke-width="1.15" fill="none"/>
</g>
<line x1="60.5" y1="61" x2="71.4" y2="49.6" stroke="#2a962a" stroke-width="0.8"/>
<polygon points="73.9,47 72.5,50.6 70.3,48.6" fill="#2a962a"/>
<line x1="59.9" y1="80.7" x2="72" y2="68.1" stroke="#ff2aff" stroke-width="0.8"/>
<polygon points="74.5,65.5 73.1,69.1 70.9,67.1" fill="#ff2aff"/>
<line x1="61.2" y1="99" x2="72.1" y2="87.2" stroke="#2a2aff" stroke-width="0.8"/>
<polygon points="74.5,84.5 73.2,88.2 71,86.1" fill="#2a2aff"/>
<line x1="67.5" y1="123.8" x2="86" y2="104.8" stroke="#ff2a2a" stroke-width="0.8"/>
<polygon points="88.5,102.2 87.1,105.8 84.9,103.7" fill="#ff2a2a"/>
<line x1="103.8" y1="144" x2="126.1" y2="121.1" stroke="#2a2a2a" stroke-width="0.8"/>
<polygon points="128.6,118.5 127.2,122.1 125,120" fill="#2a2a2a"/>
<g><text x="68.7" y="44.5" style="fill:#2a962a;stroke:#2a962a;stroke-width:0.08px;font-size:8.5px"><tspan class="ed" style="font-size:9.8px">ε</tspan><tspan dx="1.9">=</tspan><tspan dx="0"> 1x10</tspan><tspan style="font-size:8.3px" dy="-4.2">6</tspan><tspan dy="4.2" dx="-0.4"> s</tspan><tspan style="font-size:8.3px" dy="-4.2" dx="-0.8">-1</tspan></text><circle cx="70.9" cy="38.4" r="0.55" fill="#2a962a"/></g>
<g><text x="68.7" y="64.2" style="fill:#ff2aff;stroke:#ff2aff;stroke-width:0.08px;font-size:8.5px"><tspan class="ed" style="font-size:9.8px">ε</tspan><tspan dx="1.9">=</tspan><tspan dx="0"> 1x10</tspan><tspan style="font-size:8.3px" dy="-4.2">3</tspan><tspan dy="4.2" dx="-0.4"> s</tspan><tspan style="font-size:8.3px" dy="-4.2" dx="-0.8">-1</tspan></text><circle cx="70.9" cy="58.1" r="0.55" fill="#ff2aff"/></g>
<g><text x="71.4" y="82.6" style="fill:#2a2aff;stroke:#2a2aff;stroke-width:0.08px;font-size:8.5px"><tspan class="ed" style="font-size:9.8px">ε</tspan><tspan dx="1.9">=</tspan><tspan dx="0"> 1 s</tspan><tspan style="font-size:8.3px" dy="-4.2" dx="-0.8">-1</tspan></text><circle cx="73.6" cy="76.5" r="0.55" fill="#2a2aff"/></g>
<g><text x="86" y="99.6" style="fill:#ff2a2a;stroke:#ff2a2a;stroke-width:0.08px;font-size:8.5px"><tspan class="ed" style="font-size:9.8px">ε</tspan><tspan dx="1.9">=</tspan><tspan dx="0"> 1x10</tspan><tspan style="font-size:8.3px" dy="-4.2">-3</tspan><tspan dy="4.2" dx="-0.4"> s</tspan><tspan style="font-size:8.3px" dy="-4.2" dx="-0.8">-1</tspan></text><circle cx="88.2" cy="93.5" r="0.55" fill="#ff2a2a"/></g>
<g><text x="121.6" y="116.6" style="fill:#2a2a2a;stroke:#2a2a2a;stroke-width:0.08px;font-size:8.5px"><tspan class="ed" style="font-size:11.1px">ε</tspan><tspan dx="1.9">=</tspan><tspan dx="0"> 1x10</tspan><tspan style="font-size:8.3px" dy="-4.2">-6</tspan><tspan dy="4.2" dx="-0.4"> s</tspan><tspan style="font-size:8.3px" dy="-4.2" dx="-0.8">-1</tspan></text><circle cx="124.1" cy="108.1" r="0.55" fill="#2a2a2a"/></g>
<g transform="rotate(-45 399.2 73.2)"><text x="399.2" y="73.2" style="fill:#2a962a;stroke:#2a962a;stroke-width:0.22px;font-size:8.5px"><tspan class="ed" style="font-size:9.8px">ε</tspan><tspan dx="1.9">=</tspan><tspan dx="0"> 1x10</tspan><tspan style="font-size:8.3px" dy="-4.2">6</tspan><tspan dy="4.2" dx="-0.4"> s</tspan><tspan style="font-size:8.3px" dy="-4.2" dx="-0.8">-1</tspan></text><circle cx="401.4" cy="67.1" r="0.55" fill="#2a962a"/></g>
<g transform="rotate(-49 416 79.5)"><text x="416" y="79.5" style="fill:#ff2aff;stroke:#ff2aff;stroke-width:0.22px;font-size:8.5px"><tspan class="ed" style="font-size:9.8px">ε</tspan><tspan dx="1.9">=</tspan><tspan dx="0"> 1x10</tspan><tspan style="font-size:8.3px" dy="-4.2">3</tspan><tspan dy="4.2" dx="-0.4"> s</tspan><tspan style="font-size:8.3px" dy="-4.2" dx="-0.8">-1</tspan></text><circle cx="418.2" cy="73.4" r="0.55" fill="#ff2aff"/></g>
<g transform="rotate(-45 432.5 87.7)"><text x="432.5" y="87.7" style="fill:#2a2aff;stroke:#2a2aff;stroke-width:0.22px;font-size:8.5px"><tspan class="ed" style="font-size:9.8px">ε</tspan><tspan dx="1.9">=</tspan><tspan dx="0"> 1 s</tspan><tspan style="font-size:8.3px" dy="-4.2" dx="-0.8">-1</tspan></text><circle cx="434.7" cy="81.6" r="0.55" fill="#2a2aff"/></g>
<g transform="rotate(-47 441 107.4)"><text x="441" y="107.4" style="fill:#ff2a2a;stroke:#ff2a2a;stroke-width:0.22px;font-size:8.5px"><tspan class="ed" style="font-size:9.8px">ε</tspan><tspan dx="1.9">=</tspan><tspan dx="0"> 1x10</tspan><tspan style="font-size:8.3px" dy="-4.2">-3</tspan><tspan dy="4.2" dx="-0.4"> s</tspan><tspan style="font-size:8.3px" dy="-4.2" dx="-0.8">-1</tspan></text><circle cx="443.2" cy="101.3" r="0.55" fill="#ff2a2a"/></g>
<g transform="rotate(-24 456.8 129)"><text x="456.8" y="129" style="fill:#2a2a2a;stroke:#2a2a2a;stroke-width:0.22px;font-size:8.5px"><tspan class="ed" style="font-size:11.1px">ε</tspan><tspan dx="1.9">=</tspan><tspan dx="0"> 1x10</tspan><tspan style="font-size:8.3px" dy="-4.2">-6</tspan><tspan dy="4.2" dx="-0.4"> s</tspan><tspan style="font-size:8.3px" dy="-4.2" dx="-0.8">-1</tspan></text><circle cx="459.4" cy="120.5" r="0.55" fill="#2a2a2a"/></g>
<line x1="115.2" y1="299.9" x2="140.4" y2="290.4" stroke="#2a962a" stroke-width="0.8"/>
<polygon points="143.8,289.1 141,291.8 139.9,289" fill="#2a962a"/>
<line x1="121.5" y1="314.5" x2="146.8" y2="305" stroke="#ff2aff" stroke-width="0.8"/>
<polygon points="150.2,303.7 147.4,306.4 146.3,303.6" fill="#ff2aff"/>
<line x1="128.8" y1="327.5" x2="152.5" y2="318.9" stroke="#2a2aff" stroke-width="0.8"/>
<polygon points="155.9,317.7 153,320.3 152,317.5" fill="#2a2aff"/>
<line x1="135.8" y1="340.8" x2="160.4" y2="331.6" stroke="#ff2a2a" stroke-width="0.8"/>
<polygon points="163.8,330.3 161,333 159.9,330.2" fill="#ff2a2a"/>
<line x1="147" y1="352.7" x2="172.6" y2="343.4" stroke="#2a2a2a" stroke-width="0.8"/>
<polygon points="176,342.2 173.1,344.8 172.1,342" fill="#2a2a2a"/>
<g><text x="146.1" y="287" style="fill:#2a962a;stroke:#2a962a;stroke-width:0.08px;font-size:8.5px"><tspan class="ed" style="font-size:9.8px">ε</tspan><tspan dx="1.9">=</tspan><tspan dx="0"> 1x10</tspan><tspan style="font-size:8.3px" dy="-4.2">6</tspan><tspan dy="4.2" dx="-0.4"> s</tspan><tspan style="font-size:8.3px" dy="-4.2" dx="-0.8">-1</tspan></text><circle cx="148.3" cy="280.9" r="0.55" fill="#2a962a"/></g>
<g><text x="153.6" y="303" style="fill:#ff2aff;stroke:#ff2aff;stroke-width:0.08px;font-size:8.5px"><tspan class="ed" style="font-size:9.8px">ε</tspan><tspan dx="1.9">=</tspan><tspan dx="0"> 1x10</tspan><tspan style="font-size:8.3px" dy="-4.2">3</tspan><tspan dy="4.2" dx="-0.4"> s</tspan><tspan style="font-size:8.3px" dy="-4.2" dx="-0.8">-1</tspan></text><circle cx="155.8" cy="296.9" r="0.55" fill="#ff2aff"/></g>
<g><text x="160.5" y="317.3" style="fill:#2a2aff;stroke:#2a2aff;stroke-width:0.08px;font-size:8.5px"><tspan class="ed" style="font-size:9.8px">ε</tspan><tspan dx="1.9">=</tspan><tspan dx="0"> 1 s</tspan><tspan style="font-size:8.3px" dy="-4.2" dx="-0.8">-1</tspan></text><circle cx="162.7" cy="311.2" r="0.55" fill="#2a2aff"/></g>
<g><text x="171.4" y="330.9" style="fill:#ff2a2a;stroke:#ff2a2a;stroke-width:0.08px;font-size:8.5px"><tspan class="ed" style="font-size:9.8px">ε</tspan><tspan dx="1.9">=</tspan><tspan dx="0"> 1x10</tspan><tspan style="font-size:8.3px" dy="-4.2">-3</tspan><tspan dy="4.2" dx="-0.4"> s</tspan><tspan style="font-size:8.3px" dy="-4.2" dx="-0.8">-1</tspan></text><circle cx="173.6" cy="324.8" r="0.55" fill="#ff2a2a"/></g>
<g><text x="178.9" y="343.9" style="fill:#2a2a2a;stroke:#2a2a2a;stroke-width:0.08px;font-size:8.5px"><tspan class="ed" style="font-size:11.1px">ε</tspan><tspan dx="1.9">=</tspan><tspan dx="0"> 1x10</tspan><tspan style="font-size:8.3px" dy="-4.2">-6</tspan><tspan dy="4.2" dx="-0.4"> s</tspan><tspan style="font-size:8.3px" dy="-4.2" dx="-0.8">-1</tspan></text><circle cx="181.5" cy="335.4" r="0.55" fill="#2a2a2a"/></g>
<line x1="454.6" y1="232.5" x2="473.4" y2="238.8" stroke="#2a962a" stroke-width="0.8"/>
<polygon points="476.8,240 472.9,240.3 473.9,237.4" fill="#2a962a"/>
<line x1="453.2" y1="258.4" x2="472.6" y2="265.4" stroke="#ff2aff" stroke-width="0.8"/>
<polygon points="476,266.6 472.1,266.8 473.1,264" fill="#ff2aff"/>
<line x1="454.6" y1="282.9" x2="473.1" y2="289.3" stroke="#2a2aff" stroke-width="0.8"/>
<polygon points="476.5,290.5 472.6,290.7 473.6,287.9" fill="#2a2aff"/>
<line x1="454.6" y1="304.5" x2="472.6" y2="310.8" stroke="#ff2a2a" stroke-width="0.8"/>
<polygon points="476,312 472.1,312.2 473.1,309.4" fill="#ff2a2a"/>
<line x1="452.4" y1="332.5" x2="470.4" y2="339.6" stroke="#2a2a2a" stroke-width="0.8"/>
<polygon points="473.8,340.9 469.9,341 471,338.2" fill="#2a2a2a"/>
<g><text x="478.9" y="246.1" style="fill:#2a962a;stroke:#2a962a;stroke-width:0.08px;font-size:8.5px"><tspan class="ed" style="font-size:9.8px">ε</tspan><tspan dx="1.9">=</tspan><tspan dx="0"> 1x10</tspan><tspan style="font-size:8.3px" dy="-4.2">6</tspan><tspan dy="4.2" dx="-0.4"> s</tspan><tspan style="font-size:8.3px" dy="-4.2" dx="-0.8">-1</tspan></text><circle cx="481.1" cy="240" r="0.55" fill="#2a962a"/></g>
<g><text x="478.2" y="273.4" style="fill:#ff2aff;stroke:#ff2aff;stroke-width:0.08px;font-size:8.5px"><tspan class="ed" style="font-size:9.8px">ε</tspan><tspan dx="1.9">=</tspan><tspan dx="0"> 1x10</tspan><tspan style="font-size:8.3px" dy="-4.2">3</tspan><tspan dy="4.2" dx="-0.4"> s</tspan><tspan style="font-size:8.3px" dy="-4.2" dx="-0.8">-1</tspan></text><circle cx="480.4" cy="267.3" r="0.55" fill="#ff2aff"/></g>
<g><text x="481.5" y="296.7" style="fill:#2a2aff;stroke:#2a2aff;stroke-width:0.08px;font-size:8.5px"><tspan class="ed" style="font-size:9.8px">ε</tspan><tspan dx="1.9">=</tspan><tspan dx="0"> 1 s</tspan><tspan style="font-size:8.3px" dy="-4.2" dx="-0.8">-1</tspan></text><circle cx="483.7" cy="290.6" r="0.55" fill="#2a2aff"/></g>
<g><text x="479.5" y="317.7" style="fill:#ff2a2a;stroke:#ff2a2a;stroke-width:0.08px;font-size:8.5px"><tspan class="ed" style="font-size:9.8px">ε</tspan><tspan dx="1.9">=</tspan><tspan dx="0"> 1x10</tspan><tspan style="font-size:8.3px" dy="-4.2">-3</tspan><tspan dy="4.2" dx="-0.4"> s</tspan><tspan style="font-size:8.3px" dy="-4.2" dx="-0.8">-1</tspan></text><circle cx="481.7" cy="311.6" r="0.55" fill="#ff2a2a"/></g>
<g><text x="475.7" y="343.1" style="fill:#2a2a2a;stroke:#2a2a2a;stroke-width:0.08px;font-size:8.5px"><tspan class="ed" style="font-size:11.1px">ε</tspan><tspan dx="1.9">=</tspan><tspan dx="0"> 1x10</tspan><tspan style="font-size:8.3px" dy="-4.2">-6</tspan><tspan dy="4.2" dx="-0.4"> s</tspan><tspan style="font-size:8.3px" dy="-4.2" dx="-0.8">-1</tspan></text><circle cx="478.2" cy="334.6" r="0.55" fill="#2a2a2a"/></g>
</svg>
</body></html>
